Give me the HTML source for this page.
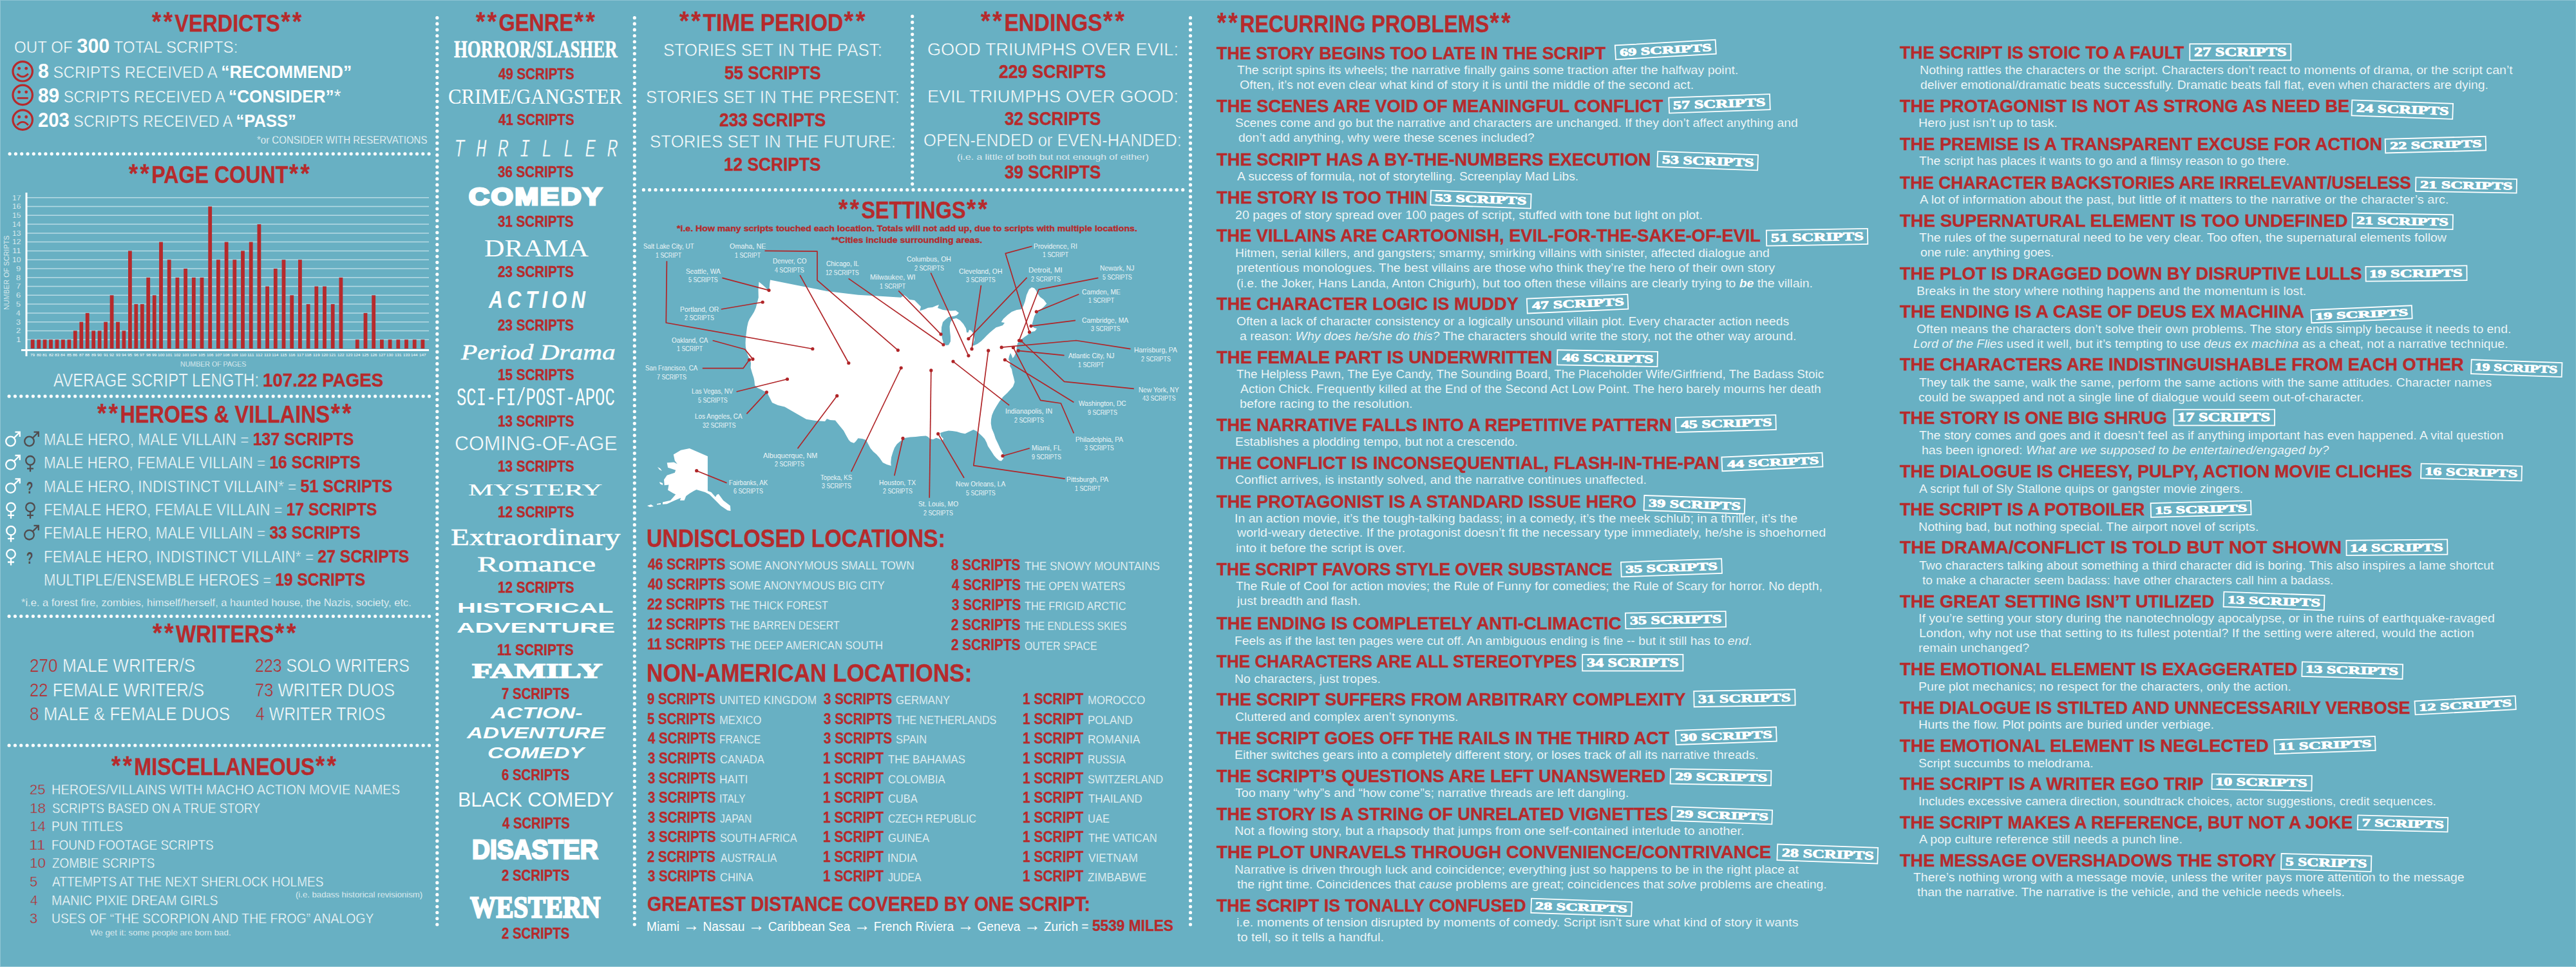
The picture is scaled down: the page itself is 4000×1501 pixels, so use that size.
<!DOCTYPE html>
<html><head><meta charset="utf-8"><title>Script Reader Infographic</title>
<style>
html,body{margin:0;padding:0}
body{width:4000px;height:1501px;background:#68b0c3;position:relative;overflow:hidden;font-family:"Liberation Sans",sans-serif;color:#fff}
.l{position:absolute;white-space:nowrap;line-height:0;height:100px}
.l::before{content:"";display:inline-block;height:100px;width:0}
.t{display:inline-block;transform-origin:0 100%}
svg.ov{position:absolute;left:0;top:0}
.d{stroke:#fff;stroke-width:5.2;stroke-linecap:round;fill:none}
b{font-weight:700}
.r{color:#b62a2c}
.a{font-size:114%;letter-spacing:0.09em;position:relative;top:-0.03em}
.a.e{margin-right:-0.09em;margin-left:0.04em}
</style></head>
<body>
<svg class="ov" width="4000" height="1501" viewBox="0 0 4000 1501">
<path d="M15.1 238.8H666.15" class="d" style="stroke-dasharray:0 9.3000"></path>
<path d="M14.1 615.1H666.55" class="d" style="stroke-dasharray:0 9.3200"></path>
<path d="M14.1 956.6H666.55" class="d" style="stroke-dasharray:0 9.3200"></path>
<path d="M14.1 1157H666.55" class="d" style="stroke-dasharray:0 9.3200"></path>
<path d="M678.8 27.7V1435.05" class="d" style="stroke-dasharray:0 9.2586"></path>
<g stroke="#b62a2c" fill="none" stroke-width="3.2" stroke-linecap="round"><circle cx="35.2" cy="110.8" r="15.2"></circle><circle cx="29.700000000000003" cy="106.2" r="2.4" fill="#b62a2c" stroke="none"></circle><circle cx="40.7" cy="106.2" r="2.4" fill="#b62a2c" stroke="none"></circle><path d="M26.6 114.39999999999999 Q35.2 123.6 43.800000000000004 114.39999999999999" stroke-width="2.9" stroke-linecap="butt"></path></g>
<g stroke="#b62a2c" fill="none" stroke-width="3.2" stroke-linecap="round"><circle cx="35.2" cy="147.4" r="15.2"></circle><circle cx="29.700000000000003" cy="142.8" r="2.4" fill="#b62a2c" stroke="none"></circle><circle cx="40.7" cy="142.8" r="2.4" fill="#b62a2c" stroke="none"></circle><path d="M26.700000000000003 152.3 H43.7" stroke-width="2.8" stroke-linecap="butt"></path></g>
<g stroke="#b62a2c" fill="none" stroke-width="3.2" stroke-linecap="round"><circle cx="35.2" cy="186.1" r="15.2"></circle><circle cx="29.700000000000003" cy="181.5" r="2.4" fill="#b62a2c" stroke="none"></circle><circle cx="40.7" cy="181.5" r="2.4" fill="#b62a2c" stroke="none"></circle><path d="M26.6 194.29999999999998 Q35.2 184.5 43.800000000000004 194.29999999999998" stroke-width="2.9" stroke-linecap="butt"></path></g>
<g><path d="M42 527.2H666" stroke="#b7dae4" stroke-width="1.5"></path><path d="M42 513.4H666" stroke="#b7dae4" stroke-width="1.5"></path><path d="M42 499.7H666" stroke="#b7dae4" stroke-width="1.5"></path><path d="M42 485.9H666" stroke="#b7dae4" stroke-width="1.5"></path><path d="M42 472.1H666" stroke="#b7dae4" stroke-width="1.5"></path><path d="M42 458.3H666" stroke="#b7dae4" stroke-width="1.5"></path><path d="M42 444.5H666" stroke="#b7dae4" stroke-width="1.5"></path><path d="M42 430.8H666" stroke="#b7dae4" stroke-width="1.5"></path><path d="M42 417.0H666" stroke="#b7dae4" stroke-width="1.5"></path><path d="M42 403.2H666" stroke="#b7dae4" stroke-width="1.5"></path><path d="M42 389.4H666" stroke="#b7dae4" stroke-width="1.5"></path><path d="M42 375.6H666" stroke="#b7dae4" stroke-width="1.5"></path><path d="M42 361.9H666" stroke="#b7dae4" stroke-width="1.5"></path><path d="M42 348.1H666" stroke="#b7dae4" stroke-width="1.5"></path><path d="M42 334.3H666" stroke="#b7dae4" stroke-width="1.5"></path><path d="M42 320.5H666" stroke="#b7dae4" stroke-width="1.5"></path><path d="M42 306.7H666" stroke="#b7dae4" stroke-width="1.5"></path><rect x="47.8" y="527.2" width="5.8" height="13.8" fill="#b62a2c"></rect><rect x="57.3" y="527.2" width="5.8" height="13.8" fill="#b62a2c"></rect><rect x="66.7" y="527.2" width="5.8" height="13.8" fill="#b62a2c"></rect><rect x="76.1" y="527.2" width="5.8" height="13.8" fill="#b62a2c"></rect><rect x="85.6" y="527.2" width="5.8" height="13.8" fill="#b62a2c"></rect><rect x="95.0" y="527.2" width="5.8" height="13.8" fill="#b62a2c"></rect><rect x="104.5" y="527.2" width="5.8" height="13.8" fill="#b62a2c"></rect><rect x="113.9" y="513.4" width="5.8" height="27.6" fill="#b62a2c"></rect><rect x="123.4" y="499.7" width="5.8" height="41.3" fill="#b62a2c"></rect><rect x="132.8" y="485.9" width="5.8" height="55.1" fill="#b62a2c"></rect><rect x="142.3" y="513.4" width="5.8" height="27.6" fill="#b62a2c"></rect><rect x="151.7" y="513.4" width="5.8" height="27.6" fill="#b62a2c"></rect><rect x="161.2" y="499.7" width="5.8" height="41.3" fill="#b62a2c"></rect><rect x="170.7" y="458.3" width="5.8" height="82.7" fill="#b62a2c"></rect><rect x="180.1" y="499.7" width="5.8" height="41.3" fill="#b62a2c"></rect><rect x="189.5" y="513.4" width="5.8" height="27.6" fill="#b62a2c"></rect><rect x="199.0" y="389.4" width="5.8" height="151.6" fill="#b62a2c"></rect><rect x="208.4" y="472.1" width="5.8" height="68.9" fill="#b62a2c"></rect><rect x="217.9" y="472.1" width="5.8" height="68.9" fill="#b62a2c"></rect><rect x="227.3" y="430.8" width="5.8" height="110.2" fill="#b62a2c"></rect><rect x="236.8" y="458.3" width="5.8" height="82.7" fill="#b62a2c"></rect><rect x="247.1" y="375.6" width="5.8" height="165.4" fill="#b62a2c"></rect><rect x="259.8" y="403.2" width="5.8" height="137.8" fill="#b62a2c"></rect><rect x="272.5" y="430.8" width="5.8" height="110.2" fill="#b62a2c"></rect><rect x="285.2" y="417.0" width="5.8" height="124.0" fill="#b62a2c"></rect><rect x="297.9" y="430.8" width="5.8" height="110.2" fill="#b62a2c"></rect><rect x="310.6" y="430.8" width="5.8" height="110.2" fill="#b62a2c"></rect><rect x="323.3" y="320.5" width="5.8" height="220.5" fill="#b62a2c"></rect><rect x="336.0" y="403.2" width="5.8" height="137.8" fill="#b62a2c"></rect><rect x="348.7" y="375.6" width="5.8" height="165.4" fill="#b62a2c"></rect><rect x="361.4" y="403.2" width="5.8" height="137.8" fill="#b62a2c"></rect><rect x="374.1" y="389.4" width="5.8" height="151.6" fill="#b62a2c"></rect><rect x="386.8" y="375.6" width="5.8" height="165.4" fill="#b62a2c"></rect><rect x="399.5" y="348.1" width="5.8" height="192.9" fill="#b62a2c"></rect><rect x="412.2" y="444.5" width="5.8" height="96.5" fill="#b62a2c"></rect><rect x="424.9" y="417.0" width="5.8" height="124.0" fill="#b62a2c"></rect><rect x="437.6" y="403.2" width="5.8" height="137.8" fill="#b62a2c"></rect><rect x="450.3" y="458.3" width="5.8" height="82.7" fill="#b62a2c"></rect><rect x="463.0" y="403.2" width="5.8" height="137.8" fill="#b62a2c"></rect><rect x="475.7" y="472.1" width="5.8" height="68.9" fill="#b62a2c"></rect><rect x="488.4" y="444.5" width="5.8" height="96.5" fill="#b62a2c"></rect><rect x="501.1" y="444.5" width="5.8" height="96.5" fill="#b62a2c"></rect><rect x="513.8" y="472.1" width="5.8" height="68.9" fill="#b62a2c"></rect><rect x="526.5" y="430.8" width="5.8" height="110.2" fill="#b62a2c"></rect><rect x="551.9" y="527.2" width="5.8" height="13.8" fill="#b62a2c"></rect><rect x="564.6" y="485.9" width="5.8" height="55.1" fill="#b62a2c"></rect><rect x="577.3" y="458.3" width="5.8" height="82.7" fill="#b62a2c"></rect><rect x="590.0" y="527.2" width="5.8" height="13.8" fill="#b62a2c"></rect><rect x="602.7" y="527.2" width="5.8" height="13.8" fill="#b62a2c"></rect><rect x="615.4" y="527.2" width="5.8" height="13.8" fill="#b62a2c"></rect><rect x="628.1" y="527.2" width="5.8" height="13.8" fill="#b62a2c"></rect><rect x="640.8" y="527.2" width="5.8" height="13.8" fill="#b62a2c"></rect><rect x="653.5" y="527.2" width="5.8" height="13.8" fill="#b62a2c"></rect><path d="M41 299V553" stroke="#fff" stroke-width="3"></path><path d="M33 543.4H666" stroke="#fff" stroke-width="3"></path></g>
<g stroke="#fff" fill="none" stroke-width="2.3"><circle cx="16.5" cy="685.0" r="7.3"></circle><path d="M21.8 679.7L30.5 671.0M23.5 670.7H30.8V678.0"></path></g>
<g stroke="#514b4d" fill="none" stroke-width="2.3"><circle cx="45.5" cy="685.0" r="7.3"></circle><path d="M50.8 679.7L59.5 671.0M52.5 670.7H59.8V678.0"></path></g>
<g stroke="#fff" fill="none" stroke-width="2.3"><circle cx="16.5" cy="721.3" r="7.3"></circle><path d="M21.8 716.0L30.5 707.3M23.5 707.0H30.8V714.3"></path></g>
<g stroke="#514b4d" fill="none" stroke-width="2.3"><circle cx="47" cy="714.8" r="6.8"></circle><path d="M47 721.5999999999999V732.3M42 727.3H52"></path></g>
<g stroke="#fff" fill="none" stroke-width="2.3"><circle cx="16.5" cy="757.6" r="7.3"></circle><path d="M21.8 752.3000000000001L30.5 743.6M23.5 743.3000000000001H30.8V750.6"></path></g>
<g stroke="#fff" fill="none" stroke-width="2.3"><circle cx="17" cy="787.4" r="6.8"></circle><path d="M17 794.1999999999999V804.9M12 799.9H22"></path></g>
<g stroke="#514b4d" fill="none" stroke-width="2.3"><circle cx="47" cy="787.4" r="6.8"></circle><path d="M47 794.1999999999999V804.9M42 799.9H52"></path></g>
<g stroke="#fff" fill="none" stroke-width="2.3"><circle cx="17" cy="823.7" r="6.8"></circle><path d="M17 830.5V841.2M12 836.2H22"></path></g>
<g stroke="#514b4d" fill="none" stroke-width="2.3"><circle cx="45.5" cy="830.2" r="7.3"></circle><path d="M50.8 824.9000000000001L59.5 816.2M52.5 815.9000000000001H59.8V823.2"></path></g>
<g stroke="#fff" fill="none" stroke-width="2.3"><circle cx="17" cy="860.0" r="6.8"></circle><path d="M17 866.8V877.5M12 872.5H22"></path></g>
<path d="M0.5 0V1501" stroke="#8fc4d3" stroke-width="1"></path><path d="M0 1500.5H4000" stroke="#9ccbd8" stroke-width="1"></path><path d="M0 0.5H4000" stroke="#8cc3d3" stroke-width="1"></path><path d="M3999.5 0V1501" stroke="#78b9c9" stroke-width="1"></path>
<path d="M985.3 27.7V1435.05" class="d" style="stroke-dasharray:0 9.2586"></path>
<path d="M1416.7 25.4V285.65" class="d" style="stroke-dasharray:0 9.2929"></path>
<path d="M1848.5 27.7V1435.05" class="d" style="stroke-dasharray:0 9.2586"></path>
<path d="M999.4 294.7H1836.75" class="d" style="stroke-dasharray:0 9.3033"></path>
<path fill="#fff" d="M1178.5,437.6 1184.0,442.0 1190.5,448.0 1192.2,450.5 1194.6,448.5 1195.2,441.0 1196.0,434.4 1236.0,442.4 1284.0,452.0 1332.4,457.8 1370.8,460.0 1399.0,461.7 1404.0,458.0 1408.0,461.0 1412.0,465.0 1420.0,466.0 1425.0,471.0 1430.0,476.0 1428.0,482.5 1436.0,480.0 1441.0,477.7 1448.0,477.0 1453.7,474.5 1458.0,473.0 1456.0,478.0 1464.0,481.0 1476.0,482.5 1484.0,482.0 1489.0,485.7 1486.0,489.0 1482.6,490.5 1473.0,492.0 1468.0,496.0 1464.0,500.0 1462.0,508.0 1461.8,516.2 1463.0,525.0 1465.0,532.2 1469.0,536.0 1473.0,535.4 1476.0,530.0 1476.0,522.6 1475.0,514.0 1474.6,506.6 1476.0,500.0 1479.4,495.3 1485.0,494.0 1490.6,497.0 1496.0,503.0 1500.0,509.8 1501.0,516.0 1503.4,516.2 1505.0,512.0 1508.0,513.0 1511.0,517.0 1513.0,522.6 1513.0,528.0 1511.5,532.2 1509.0,537.0 1513.0,536.0 1517.9,533.8 1523.0,530.0 1527.5,525.8 1532.0,521.0 1537.0,516.2 1542.0,512.0 1546.7,508.2 1551.0,507.0 1557.0,505.0 1560.0,501.0 1554.7,500.0 1558.0,495.0 1564.4,489.0 1571.0,484.0 1578.8,481.0 1586.0,480.0 1589.0,475.0 1591.6,468.0 1594.0,458.0 1598.0,448.9 1602.0,446.0 1606.0,447.3 1609.0,451.0 1610.8,455.3 1615.0,461.0 1620.5,464.9 1625.3,471.3 1621.0,476.0 1617.3,479.3 1613.0,482.0 1609.0,485.7 1606.0,491.0 1604.4,497.0 1603.0,502.0 1602.8,506.6 1606.0,509.0 1610.0,510.0 1607.0,514.0 1602.0,515.0 1598.0,517.8 1594.0,521.0 1591.6,522.6 1587.0,526.0 1583.6,529.0 1580.0,533.0 1578.8,538.6 1578.5,543.0 1577.0,548.3 1575.0,553.0 1572.4,556.0 1571.0,552.0 1569.0,548.0 1567.0,553.0 1566.0,557.9 1569.0,563.0 1568.0,568.0 1571.0,573.0 1572.4,580.3 1574.0,586.0 1575.6,593.0 1573.0,600.0 1569.0,604.4 1564.0,610.0 1558.0,615.6 1552.0,623.0 1546.7,631.6 1543.0,638.0 1540.3,644.4 1539.0,651.0 1538.7,657.3 1540.0,665.0 1543.5,673.3 1546.0,681.0 1550.0,689.3 1553.0,696.0 1556.3,702.0 1558.5,707.0 1558.0,711.8 1555.0,715.5 1551.5,715.0 1547.0,711.0 1543.5,707.0 1539.0,700.0 1534.0,692.5 1532.0,687.0 1529.0,681.3 1525.0,677.0 1521.0,673.3 1516.0,669.0 1511.5,666.9 1505.0,670.0 1498.6,673.3 1492.0,672.0 1485.8,670.0 1479.0,669.0 1473.0,668.5 1466.0,670.0 1460.0,672.0 1461.0,677.0 1465.0,681.0 1463.4,684.0 1458.0,681.0 1453.7,679.7 1449.0,682.0 1444.0,681.3 1441.0,678.0 1437.7,676.5 1430.0,677.0 1421.7,678.0 1413.0,678.5 1405.6,679.7 1399.0,684.0 1392.8,689.3 1389.0,695.0 1386.4,702.0 1384.0,710.0 1383.2,718.0 1383.7,723.0 1377.0,721.0 1370.8,718.0 1366.0,711.0 1361.0,705.3 1356.0,701.0 1351.6,695.7 1348.0,689.0 1345.0,683.0 1339.0,681.0 1332.4,680.3 1329.0,685.0 1326.0,687.7 1321.0,686.0 1318.0,683.0 1314.0,676.0 1310.0,668.5 1303.0,660.0 1297.0,652.4 1289.0,652.0 1284.0,650.0 1281.0,654.0 1266.0,653.0 1252.0,650.8 1235.0,641.0 1218.5,631.6 1208.0,629.0 1199.0,625.0 1195.0,617.0 1191.0,609.0 1186.0,607.0 1181.7,604.4 1176.0,602.0 1172.0,598.0 1171.5,592.0 1170.5,586.7 1168.0,579.0 1165.6,570.7 1166.0,563.0 1164.0,557.9 1161.0,551.0 1159.0,545.0 1157.8,538.0 1157.6,532.0 1158.0,524.0 1159.0,516.0 1160.0,508.0 1161.8,500.0 1164.0,495.0 1167.0,490.5 1171.0,484.0 1173.7,477.7 1176.0,469.0 1177.8,461.7 1177.5,450.0Z"></path>
<path fill="#fff" d="M1070.7,696.1 1098.9,708.2 1098.9,762.0 1104.3,764.0 1111.0,771.4 1113.0,768.0 1115.7,766.7 1123.1,776.8 1133.9,784.9 1134.5,792.9 1129.8,792.3 1119.1,784.9 1111.0,776.8 1101.6,767.4 1094.9,764.0 1081.4,760.0 1077.4,762.0 1070.7,766.0 1065.3,770.1 1062.6,776.8 1055.9,776.8 1057.2,772.8 1047.8,776.8 1035.7,782.2 1029.0,782.8 1029.0,779.5 1041.1,776.8 1049.2,767.4 1045.1,765.4 1037.1,760.7 1038.4,752.6 1031.7,753.3 1031.0,744.5 1035.7,737.8 1047.8,733.8 1049.2,729.7 1037.1,725.7 1035.7,718.3 1046.5,717.6 1051.8,720.3 1047.8,715.0 1045.8,705.5 1057.2,698.8Z M1021,725 1025,727 1028,731 1024,729Z M1024,748 1029,750 1029,753 1025,751Z M1005,785 1011,783 1015,786 1009,787Z M1020,782 1026,781 1026,783 1020,783.5Z"></path>
<g stroke="#b02528" stroke-width="1.7" fill="none" stroke-linejoin="round"><path d="M1035.4,405.3 1034.3,501 1261.8,541.5"></path><path d="M1187.5,389.4 1269,390.2 1269,435 1394.3,543.6"></path><path d="M1242.2,427.2 1317.8,563.5"></path><path d="M1121.4,431.4 1194,450.6"></path><path d="M1119.8,480 1184.2,469"></path><path d="M1106.6,528.5 1156.7,542.2 1168.9,557.4"></path><path d="M1090.8,571.7 1154,571.7 1163.5,558.5"></path><path d="M1143.5,608 1222.5,588.5"></path><path d="M1159.4,642.4 1190.4,608.8"></path><path d="M1238.5,696.2 1299.7,614.4"></path><path d="M1128.5,749.6 1081.7,730.7"></path><path d="M1321.8,732 1399.2,571"></path><path d="M1388.8,738.4 1402,680.4"></path><path d="M1443.2,772.7 1445.8,574.9"></path><path d="M1497,741.8 1456.7,673.4"></path><path d="M1317.6,432.4 1464.9,535"></path><path d="M1395.2,451.4 1461,518.8"></path><path d="M1445.3,423.5 1503.9,552.1"></path><path d="M1523.4,443 1509,541.7"></path><path d="M1594.6,430.9 1503.9,525.8"></path><path d="M1602.5,382.3 1561.3,393.4 1598.5,515.5"></path><path d="M1705.4,431.4 1613,449.3 1582.5,528.5"></path><path d="M1675.3,456.7 1609.3,483.8"></path><path d="M1670,497.3 1601,506.1"></path><path d="M1755.5,541.6 1671,528.5 1555.2,539.2"></path><path d="M1652.6,551.7 1581.2,544.4"></path><path d="M1760.8,603.4 1652.6,592.3 1585.6,529"></path><path d="M1667.4,624.5 1560.4,558.5"></path><path d="M1567.2,629.2 1480,561.1"></path><path d="M1667.4,672.5 1647.3,626 1615.7,621.3 1573.4,539.4"></path><path d="M1598.8,695.7 1557,707.7"></path><path d="M1653.7,743.2 1511.8,722.6 1534.7,544.2"></path></g>
<g fill="#b02528"><circle cx="1261.8" cy="541.5" r="2.6"></circle><circle cx="1394.3" cy="543.6" r="2.6"></circle><circle cx="1317.8" cy="563.5" r="2.6"></circle><circle cx="1194" cy="450.6" r="2.6"></circle><circle cx="1184.2" cy="469" r="2.6"></circle><circle cx="1168.9" cy="557.4" r="2.6"></circle><circle cx="1163.5" cy="558.5" r="2.6"></circle><circle cx="1222.5" cy="588.5" r="2.6"></circle><circle cx="1190.4" cy="608.8" r="2.6"></circle><circle cx="1299.7" cy="614.4" r="2.6"></circle><circle cx="1081.7" cy="730.7" r="2.6"></circle><circle cx="1399.2" cy="571" r="2.6"></circle><circle cx="1402" cy="680.4" r="2.6"></circle><circle cx="1445.8" cy="574.9" r="2.6"></circle><circle cx="1456.7" cy="673.4" r="2.6"></circle><circle cx="1464.9" cy="535" r="2.6"></circle><circle cx="1461" cy="518.8" r="2.6"></circle><circle cx="1503.9" cy="552.1" r="2.6"></circle><circle cx="1509" cy="541.7" r="2.6"></circle><circle cx="1503.9" cy="525.8" r="2.6"></circle><circle cx="1598.5" cy="515.5" r="2.6"></circle><circle cx="1582.5" cy="528.5" r="2.6"></circle><circle cx="1609.3" cy="483.8" r="2.6"></circle><circle cx="1601" cy="506.1" r="2.6"></circle><circle cx="1555.2" cy="539.2" r="2.6"></circle><circle cx="1581.2" cy="544.4" r="2.6"></circle><circle cx="1585.6" cy="529" r="2.6"></circle><circle cx="1560.4" cy="558.5" r="2.6"></circle><circle cx="1480" cy="561.1" r="2.6"></circle><circle cx="1573.4" cy="539.4" r="2.6"></circle><circle cx="1557" cy="707.7" r="2.6"></circle><circle cx="1534.7" cy="544.2" r="2.6"></circle></g>
<rect x="2508.3" y="66.1" width="156.0" height="21.9" fill="none" stroke="#fff" stroke-width="1.8" transform="rotate(-3.2 2586.3 77.1)"></rect>
<rect x="2591.6" y="148.9" width="156.8" height="24.0" fill="none" stroke="#fff" stroke-width="1.8" transform="rotate(-2 2669.9 160.9)"></rect>
<rect x="2573.8" y="237.6" width="155.8" height="24.1" fill="none" stroke="#fff" stroke-width="1.8" transform="rotate(2 2651.7 249.6)"></rect>
<rect x="2221.6" y="298.3" width="155.7" height="22.6" fill="none" stroke="#fff" stroke-width="1.8" transform="rotate(2 2299.5 309.6)"></rect>
<rect x="2743.0" y="356.2" width="157.1" height="24.1" fill="none" stroke="#fff" stroke-width="1.8" transform="rotate(-1 2821.6 368.2)"></rect>
<rect x="2371.2" y="460.3" width="156.7" height="22.8" fill="none" stroke="#fff" stroke-width="1.8" transform="rotate(-2.5 2449.6 471.7)"></rect>
<rect x="2418.2" y="544.6" width="155.6" height="23.1" fill="none" stroke="#fff" stroke-width="1.8" transform="rotate(1 2496.0 556.1)"></rect>
<rect x="2602.2" y="646.2" width="155.4" height="22.8" fill="none" stroke="#fff" stroke-width="1.8" transform="rotate(-1.5 2679.9 657.7)"></rect>
<rect x="2673.8" y="706.2" width="156.2" height="21.7" fill="none" stroke="#fff" stroke-width="1.8" transform="rotate(-2.5 2751.9 717.0)"></rect>
<rect x="2552.9" y="771.7" width="156.3" height="23.1" fill="none" stroke="#fff" stroke-width="1.8" transform="rotate(2 2631.0 783.2)"></rect>
<rect x="2517.3" y="870.0" width="156.3" height="22.6" fill="none" stroke="#fff" stroke-width="1.8" transform="rotate(-2 2595.5 881.3)"></rect>
<rect x="2524.1" y="950.2" width="155.7" height="24.4" fill="none" stroke="#fff" stroke-width="1.8" transform="rotate(-1 2601.9 962.3)"></rect>
<rect x="2457.2" y="1016.0" width="156.2" height="25.4" fill="none" stroke="#fff" stroke-width="1.8" transform="rotate(0 2535.3 1028.7)"></rect>
<rect x="2630.4" y="1071.6" width="157.0" height="24.3" fill="none" stroke="#fff" stroke-width="1.8" transform="rotate(-1 2708.9 1083.7)"></rect>
<rect x="2602.3" y="1131.2" width="156.1" height="22.1" fill="none" stroke="#fff" stroke-width="1.8" transform="rotate(-2 2680.4 1142.2)"></rect>
<rect x="2593.8" y="1194.8" width="156.4" height="23.1" fill="none" stroke="#fff" stroke-width="1.8" transform="rotate(1 2672.0 1206.3)"></rect>
<rect x="2595.7" y="1254.9" width="156.1" height="21.7" fill="none" stroke="#fff" stroke-width="1.8" transform="rotate(2 2673.8 1265.8)"></rect>
<rect x="2759.8" y="1313.2" width="156.0" height="24.6" fill="none" stroke="#fff" stroke-width="1.8" transform="rotate(2 2837.8 1325.5)"></rect>
<rect x="2377.6" y="1397.3" width="156.0" height="22.2" fill="none" stroke="#fff" stroke-width="1.8" transform="rotate(2 2455.7 1408.4)"></rect>
<rect x="3400.3" y="68.2" width="157.0" height="25.3" fill="none" stroke="#fff" stroke-width="1.8" transform="rotate(0 3478.8 80.8)"></rect>
<rect x="3651.9" y="158.1" width="156.8" height="24.1" fill="none" stroke="#fff" stroke-width="1.8" transform="rotate(2 3730.2 170.2)"></rect>
<rect x="3703.9" y="213.8" width="156.0" height="21.7" fill="none" stroke="#fff" stroke-width="1.8" transform="rotate(-1.5 3781.8 224.7)"></rect>
<rect x="3751.2" y="276.7" width="156.6" height="21.5" fill="none" stroke="#fff" stroke-width="1.8" transform="rotate(1 3829.5 287.4)"></rect>
<rect x="3652.7" y="332.1" width="156.1" height="22.6" fill="none" stroke="#fff" stroke-width="1.8" transform="rotate(1 3730.8 343.4)"></rect>
<rect x="3673.6" y="413.1" width="156.9" height="22.8" fill="none" stroke="#fff" stroke-width="1.8" transform="rotate(-0.5 3752.1 424.5)"></rect>
<rect x="3588.9" y="477.7" width="156.4" height="20.1" fill="none" stroke="#fff" stroke-width="1.8" transform="rotate(-2.5 3667.1 487.8)"></rect>
<rect x="3837.3" y="560.7" width="140.8" height="22.0" fill="none" stroke="#fff" stroke-width="1.8" transform="rotate(2 3907.8 571.7)"></rect>
<rect x="3375.5" y="635.7" width="156.5" height="24.7" fill="none" stroke="#fff" stroke-width="1.8" transform="rotate(0 3453.8 648.0)"></rect>
<rect x="3759.3" y="721.6" width="156.5" height="22.8" fill="none" stroke="#fff" stroke-width="1.8" transform="rotate(1.5 3837.5 733.0)"></rect>
<rect x="3339.8" y="779.1" width="155.5" height="21.8" fill="none" stroke="#fff" stroke-width="1.8" transform="rotate(-1.5 3417.5 790.0)"></rect>
<rect x="3643.5" y="838.1" width="156.8" height="23.3" fill="none" stroke="#fff" stroke-width="1.8" transform="rotate(-0.5 3721.9 849.8)"></rect>
<rect x="3452.9" y="921.4" width="156.3" height="23.1" fill="none" stroke="#fff" stroke-width="1.8" transform="rotate(2 3531.0 933.0)"></rect>
<rect x="3574.6" y="1029.4" width="156.2" height="22.6" fill="none" stroke="#fff" stroke-width="1.8" transform="rotate(1.5 3652.7 1040.8)"></rect>
<rect x="3749.9" y="1084.3" width="156.4" height="21.0" fill="none" stroke="#fff" stroke-width="1.8" transform="rotate(-3 3828.2 1094.8)"></rect>
<rect x="3531.7" y="1145.7" width="156.6" height="21.8" fill="none" stroke="#fff" stroke-width="1.8" transform="rotate(-2 3610.1 1156.7)"></rect>
<rect x="3434.7" y="1202.8" width="155.0" height="23.4" fill="none" stroke="#fff" stroke-width="1.8" transform="rotate(1 3512.2 1214.5)"></rect>
<rect x="3661.0" y="1267.2" width="139.9" height="22.4" fill="none" stroke="#fff" stroke-width="1.8" transform="rotate(1.5 3730.9 1278.5)"></rect>
<rect x="3542.3" y="1326.8" width="139.8" height="24.3" fill="none" stroke="#fff" stroke-width="1.8" transform="rotate(1.5 3612.2 1339.0)"></rect>
</svg>
<div class="l" style="left:236.0px;top:-51.4px"><span class="t" style="font-size: 36.05px; font-weight: 700; color: rgb(182, 42, 44); -webkit-text-stroke: 0.35px rgb(182, 42, 44); transform: scaleX(0.8975); margin-left: -0.09px;"><span class="a">**</span>VERDICTS<span class="a e">**</span></span></div>
<div class="l" style="left:23.0px;top:-17.6px"><span class="t" style="font-size: 25.15px; -webkit-text-stroke: 0.55px rgb(104, 176, 195); transform: scaleX(0.9607); margin-left: -1.15px;">OUT OF <b style="font-size:126%;-webkit-text-stroke:0">300</b> TOTAL SCRIPTS:</span></div>
<div class="l" style="left:59.8px;top:20.5px"><span class="t" style="font-size: 25.15px; -webkit-text-stroke: 0.55px rgb(104, 176, 195); transform: scaleX(0.9569); margin-left: -1.05px;"><b style="font-size:126%;-webkit-text-stroke:0">8</b> SCRIPTS RECEIVED A <b style="font-size:110%;-webkit-text-stroke:0">“RECOMMEND”</b></span></div>
<div class="l" style="left:59.8px;top:58.5px"><span class="t" style="font-size: 25.15px; -webkit-text-stroke: 0.55px rgb(104, 176, 195); transform: scaleX(0.9411); margin-left: -1.03px;"><b style="font-size:126%;-webkit-text-stroke:0">89</b> SCRIPTS RECEIVED A <b style="font-size:110%;-webkit-text-stroke:0">“CONSIDER”</b><span style="font-size:120%;-webkit-text-stroke:0.2px #68b0c3">*</span></span></div>
<div class="l" style="left:59.8px;top:97.1px"><span class="t" style="font-size: 25.15px; -webkit-text-stroke: 0.55px rgb(104, 176, 195); transform: scaleX(0.9255); margin-left: -1.17px;"><b style="font-size:126%;-webkit-text-stroke:0">203</b> SCRIPTS RECEIVED A <b style="font-size:110%;-webkit-text-stroke:0">“PASS”</b></span></div>
<div class="l" style="left:399.5px;top:123.4px"><span class="t" style="font-size: 16.42px; -webkit-text-stroke: 0.3px rgb(104, 176, 195); transform: scaleX(0.9151); margin-left: -0.24px;">*or CONSIDER WITH RESERVATIONS</span></div>
<div class="l" style="left:200.0px;top:183.8px"><span class="t" style="font-size: 36.05px; font-weight: 700; color: rgb(182, 42, 44); -webkit-text-stroke: 0.35px rgb(182, 42, 44); transform: scaleX(0.8936); margin-left: -0.09px;"><span class="a">**</span>PAGE COUNT<span class="a e">**</span></span></div>
<div class="l" style="left:25.6px;top:431.0px"><span class="t" style="font-size: 10.9px; -webkit-text-stroke: 0.25px rgb(104, 176, 195); transform: scaleX(1.2766); margin-left: -1.06px;">1</span></div>
<div class="l" style="left:25.6px;top:417.2px"><span class="t" style="font-size: 10.9px; -webkit-text-stroke: 0.25px rgb(104, 176, 195); transform: scaleX(1.2082); margin-left: -0.66px;">2</span></div>
<div class="l" style="left:25.6px;top:403.5px"><span class="t" style="font-size: 10.9px; -webkit-text-stroke: 0.25px rgb(104, 176, 195); transform: scaleX(1.1608); margin-left: -0.48px;">3</span></div>
<div class="l" style="left:25.6px;top:389.7px"><span class="t" style="font-size: 10.9px; -webkit-text-stroke: 0.25px rgb(104, 176, 195); transform: scaleX(1.0922); margin-left: -0.27px;">4</span></div>
<div class="l" style="left:25.6px;top:375.9px"><span class="t" style="font-size: 10.9px; -webkit-text-stroke: 0.25px rgb(104, 176, 195); transform: scaleX(1.1608); margin-left: -0.51px;">5</span></div>
<div class="l" style="left:25.6px;top:362.1px"><span class="t" style="font-size: 10.9px; -webkit-text-stroke: 0.25px rgb(104, 176, 195); transform: scaleX(1.1928); margin-left: -0.66px;">6</span></div>
<div class="l" style="left:25.6px;top:348.3px"><span class="t" style="font-size: 10.9px; -webkit-text-stroke: 0.25px rgb(104, 176, 195); transform: scaleX(1.2109); margin-left: -0.68px;">7</span></div>
<div class="l" style="left:25.6px;top:334.6px"><span class="t" style="font-size: 10.9px; -webkit-text-stroke: 0.25px rgb(104, 176, 195); transform: scaleX(1.1732); margin-left: -0.56px;">8</span></div>
<div class="l" style="left:25.6px;top:320.8px"><span class="t" style="font-size: 10.9px; -webkit-text-stroke: 0.25px rgb(104, 176, 195); transform: scaleX(1.1917); margin-left: -0.61px;">9</span></div>
<div class="l" style="left:19.6px;top:307.0px"><span class="t" style="font-size: 10.9px; -webkit-text-stroke: 0.25px rgb(104, 176, 195); transform: scaleX(1.1041); margin-left: -0.92px;">10</span></div>
<div class="l" style="left:19.6px;top:293.2px"><span class="t" style="font-size: 10.9px; -webkit-text-stroke: 0.25px rgb(104, 176, 195); transform: scaleX(1.206); margin-left: -1px;">11</span></div>
<div class="l" style="left:19.6px;top:279.4px"><span class="t" style="font-size: 10.9px; -webkit-text-stroke: 0.25px rgb(104, 176, 195); transform: scaleX(1.1167); margin-left: -0.93px;">12</span></div>
<div class="l" style="left:19.6px;top:265.7px"><span class="t" style="font-size: 10.9px; -webkit-text-stroke: 0.25px rgb(104, 176, 195); transform: scaleX(1.1095); margin-left: -0.92px;">13</span></div>
<div class="l" style="left:19.6px;top:251.9px"><span class="t" style="font-size: 10.9px; -webkit-text-stroke: 0.25px rgb(104, 176, 195); transform: scaleX(1.0934); margin-left: -0.91px;">14</span></div>
<div class="l" style="left:19.6px;top:238.1px"><span class="t" style="font-size: 10.9px; -webkit-text-stroke: 0.25px rgb(104, 176, 195); transform: scaleX(1.1074); margin-left: -0.92px;">15</span></div>
<div class="l" style="left:19.6px;top:224.3px"><span class="t" style="font-size: 10.9px; -webkit-text-stroke: 0.25px rgb(104, 176, 195); transform: scaleX(1.1095); margin-left: -0.92px;">16</span></div>
<div class="l" style="left:19.6px;top:210.5px"><span class="t" style="font-size: 10.9px; -webkit-text-stroke: 0.25px rgb(104, 176, 195); transform: scaleX(1.1167); margin-left: -0.93px;">17</span></div>
<div class="l" style="left:47.5px;top:453.2px"><span class="t" style="font-size: 5.52px; transform: scaleX(1.1616); margin-left: -0.33px;">79</span></div>
<div class="l" style="left:56.9px;top:453.2px"><span class="t" style="font-size: 5.52px; transform: scaleX(1.1434); margin-left: -0.27px;">80</span></div>
<div class="l" style="left:66.3px;top:453.2px"><span class="t" style="font-size: 5.52px; transform: scaleX(1.1543); margin-left: -0.28px;">81</span></div>
<div class="l" style="left:75.8px;top:453.2px"><span class="t" style="font-size: 5.52px; transform: scaleX(1.156); margin-left: -0.28px;">82</span></div>
<div class="l" style="left:85.2px;top:453.2px"><span class="t" style="font-size: 5.52px; transform: scaleX(1.1488); margin-left: -0.28px;">83</span></div>
<div class="l" style="left:94.7px;top:453.2px"><span class="t" style="font-size: 5.52px; transform: scaleX(1.1326); margin-left: -0.27px;">84</span></div>
<div class="l" style="left:104.2px;top:453.2px"><span class="t" style="font-size: 5.52px; transform: scaleX(1.1467); margin-left: -0.28px;">85</span></div>
<div class="l" style="left:113.6px;top:453.2px"><span class="t" style="font-size: 5.52px; transform: scaleX(1.1488); margin-left: -0.28px;">86</span></div>
<div class="l" style="left:123.0px;top:453.2px"><span class="t" style="font-size: 5.52px; transform: scaleX(1.156); margin-left: -0.28px;">87</span></div>
<div class="l" style="left:132.5px;top:453.2px"><span class="t" style="font-size: 5.52px; transform: scaleX(1.1483); margin-left: -0.28px;">88</span></div>
<div class="l" style="left:141.9px;top:453.2px"><span class="t" style="font-size: 5.52px; transform: scaleX(1.1527); margin-left: -0.28px;">89</span></div>
<div class="l" style="left:151.4px;top:453.2px"><span class="t" style="font-size: 5.52px; transform: scaleX(1.1472); margin-left: -0.3px;">90</span></div>
<div class="l" style="left:160.8px;top:453.2px"><span class="t" style="font-size: 5.52px; transform: scaleX(1.1582); margin-left: -0.3px;">91</span></div>
<div class="l" style="left:170.3px;top:453.2px"><span class="t" style="font-size: 5.52px; transform: scaleX(1.1599); margin-left: -0.3px;">92</span></div>
<div class="l" style="left:179.8px;top:453.2px"><span class="t" style="font-size: 5.52px; transform: scaleX(1.1526); margin-left: -0.3px;">93</span></div>
<div class="l" style="left:189.2px;top:453.2px"><span class="t" style="font-size: 5.52px; transform: scaleX(1.1364); margin-left: -0.29px;">94</span></div>
<div class="l" style="left:198.6px;top:453.2px"><span class="t" style="font-size: 5.52px; transform: scaleX(1.1505); margin-left: -0.3px;">95</span></div>
<div class="l" style="left:208.1px;top:453.2px"><span class="t" style="font-size: 5.52px; transform: scaleX(1.1526); margin-left: -0.3px;">96</span></div>
<div class="l" style="left:217.6px;top:453.2px"><span class="t" style="font-size: 5.52px; transform: scaleX(1.1599); margin-left: -0.3px;">97</span></div>
<div class="l" style="left:227.0px;top:453.2px"><span class="t" style="font-size: 5.52px; transform: scaleX(1.1522); margin-left: -0.3px;">98</span></div>
<div class="l" style="left:236.4px;top:453.2px"><span class="t" style="font-size: 5.52px; transform: scaleX(1.1566); margin-left: -0.3px;">99</span></div>
<div class="l" style="left:245.1px;top:453.2px"><span class="t" style="font-size: 5.52px; transform: scaleX(1.1381); margin-left: -0.48px;">100</span></div>
<div class="l" style="left:257.8px;top:453.2px"><span class="t" style="font-size: 5.52px; transform: scaleX(1.1453); margin-left: -0.48px;">101</span></div>
<div class="l" style="left:270.5px;top:453.2px"><span class="t" style="font-size: 5.52px; transform: scaleX(1.1464); margin-left: -0.48px;">102</span></div>
<div class="l" style="left:283.2px;top:453.2px"><span class="t" style="font-size: 5.52px; transform: scaleX(1.1417); margin-left: -0.48px;">103</span></div>
<div class="l" style="left:295.9px;top:453.2px"><span class="t" style="font-size: 5.52px; transform: scaleX(1.131); margin-left: -0.48px;">104</span></div>
<div class="l" style="left:308.6px;top:453.2px"><span class="t" style="font-size: 5.52px; transform: scaleX(1.1403); margin-left: -0.48px;">105</span></div>
<div class="l" style="left:321.3px;top:453.2px"><span class="t" style="font-size: 5.52px; transform: scaleX(1.1417); margin-left: -0.48px;">106</span></div>
<div class="l" style="left:334.0px;top:453.2px"><span class="t" style="font-size: 5.52px; transform: scaleX(1.1464); margin-left: -0.48px;">107</span></div>
<div class="l" style="left:346.7px;top:453.2px"><span class="t" style="font-size: 5.52px; transform: scaleX(1.1414); margin-left: -0.48px;">108</span></div>
<div class="l" style="left:359.4px;top:453.2px"><span class="t" style="font-size: 5.52px; transform: scaleX(1.1443); margin-left: -0.48px;">109</span></div>
<div class="l" style="left:372.1px;top:453.2px"><span class="t" style="font-size: 5.52px; transform: scaleX(1.1948); margin-left: -0.5px;">110</span></div>
<div class="l" style="left:384.8px;top:453.2px"><span class="t" style="font-size: 5.52px; transform: scaleX(1.2661); margin-left: -0.53px;">111</span></div>
<div class="l" style="left:397.5px;top:453.2px"><span class="t" style="font-size: 5.52px; transform: scaleX(1.2039); margin-left: -0.51px;">112</span></div>
<div class="l" style="left:410.2px;top:453.2px"><span class="t" style="font-size: 5.52px; transform: scaleX(1.1987); margin-left: -0.5px;">113</span></div>
<div class="l" style="left:422.9px;top:453.2px"><span class="t" style="font-size: 5.52px; transform: scaleX(1.1869); margin-left: -0.5px;">114</span></div>
<div class="l" style="left:435.6px;top:453.2px"><span class="t" style="font-size: 5.52px; transform: scaleX(1.1971); margin-left: -0.5px;">115</span></div>
<div class="l" style="left:448.3px;top:453.2px"><span class="t" style="font-size: 5.52px; transform: scaleX(1.1987); margin-left: -0.5px;">116</span></div>
<div class="l" style="left:461.0px;top:453.2px"><span class="t" style="font-size: 5.52px; transform: scaleX(1.2039); margin-left: -0.51px;">117</span></div>
<div class="l" style="left:473.7px;top:453.2px"><span class="t" style="font-size: 5.52px; transform: scaleX(1.1984); margin-left: -0.5px;">118</span></div>
<div class="l" style="left:486.4px;top:453.2px"><span class="t" style="font-size: 5.52px; transform: scaleX(1.2015); margin-left: -0.51px;">119</span></div>
<div class="l" style="left:499.1px;top:453.2px"><span class="t" style="font-size: 5.52px; transform: scaleX(1.1381); margin-left: -0.48px;">120</span></div>
<div class="l" style="left:511.8px;top:453.2px"><span class="t" style="font-size: 5.52px; transform: scaleX(1.1453); margin-left: -0.48px;">121</span></div>
<div class="l" style="left:524.5px;top:453.2px"><span class="t" style="font-size: 5.52px; transform: scaleX(1.1464); margin-left: -0.48px;">122</span></div>
<div class="l" style="left:537.2px;top:453.2px"><span class="t" style="font-size: 5.52px; transform: scaleX(1.1417); margin-left: -0.48px;">123</span></div>
<div class="l" style="left:549.9px;top:453.2px"><span class="t" style="font-size: 5.52px; transform: scaleX(1.131); margin-left: -0.48px;">124</span></div>
<div class="l" style="left:562.6px;top:453.2px"><span class="t" style="font-size: 5.52px; transform: scaleX(1.1403); margin-left: -0.48px;">125</span></div>
<div class="l" style="left:575.3px;top:453.2px"><span class="t" style="font-size: 5.52px; transform: scaleX(1.1417); margin-left: -0.48px;">126</span></div>
<div class="l" style="left:588.0px;top:453.2px"><span class="t" style="font-size: 5.52px; transform: scaleX(1.1464); margin-left: -0.48px;">127</span></div>
<div class="l" style="left:600.7px;top:453.2px"><span class="t" style="font-size: 5.52px; transform: scaleX(1.1381); margin-left: -0.48px;">130</span></div>
<div class="l" style="left:613.4px;top:453.2px"><span class="t" style="font-size: 5.52px; transform: scaleX(1.1453); margin-left: -0.48px;">131</span></div>
<div class="l" style="left:626.1px;top:453.2px"><span class="t" style="font-size: 5.52px; transform: scaleX(1.1417); margin-left: -0.48px;">133</span></div>
<div class="l" style="left:638.8px;top:453.2px"><span class="t" style="font-size: 5.52px; transform: scaleX(1.131); margin-left: -0.48px;">144</span></div>
<div class="l" style="left:651.5px;top:453.2px"><span class="t" style="font-size: 5.52px; transform: scaleX(1.1464); margin-left: -0.48px;">147</span></div>
<div class="l" style="left:280.5px;top:468.7px"><span class="t" style="font-size: 10.9px; -webkit-text-stroke: 0.25px rgb(104, 176, 195); transform: scaleX(0.974); margin-left: -0.87px;">NUMBER OF PAGES</span></div>
<div class="l" style="left:13.8px;top:381px;transform:rotate(-90deg);transform-origin:0 100px"><span class="t" style="font-size:10.9px;-webkit-text-stroke:0.25px #68b0c3">NUMBER OF SCRIPTS</span></div>
<div class="l" style="left:82.7px;top:499.6px"><span class="t" style="font-size: 29.8px; -webkit-text-stroke: 0.55px rgb(104, 176, 195); transform: scaleX(0.8051); margin-left: -0.05px;">AVERAGE SCRIPT LENGTH:</span></div>
<div class="l" style="left:409.6px;top:499.6px"><span class="t" style="font-size: 29.8px; font-weight: 700; color: rgb(182, 42, 44); -webkit-text-stroke: 0.35px rgb(182, 42, 44); transform: scaleX(0.929); margin-left: -1.74px;">107.22 PAGES</span></div>
<div class="l" style="left:151.3px;top:556.4px"><span class="t" style="font-size: 36.05px; font-weight: 700; color: rgb(182, 42, 44); -webkit-text-stroke: 0.35px rgb(182, 42, 44); transform: scaleX(0.8987); margin-left: -0.09px;"><span class="a">**</span>HEROES &amp; VILLAINS<span class="a e">**</span></span></div>
<div class="l" style="left:69.5px;top:591.0px"><span class="t" style="font-size: 25.44px; -webkit-text-stroke: 0.55px rgb(104, 176, 195); transform: scaleX(0.892); margin-left: -1.86px;">MALE HERO, MALE VILLAIN = <b class="r" style="font-size:110%;-webkit-text-stroke:0.35px #b62a2c">137 SCRIPTS</b></span></div>
<div class="l" style="left:69.5px;top:627.3px"><span class="t" style="font-size: 25.44px; -webkit-text-stroke: 0.55px rgb(104, 176, 195); transform: scaleX(0.8836); margin-left: -1.84px;">MALE HERO, FEMALE VILLAIN = <b class="r" style="font-size:110%;-webkit-text-stroke:0.35px #b62a2c">16 SCRIPTS</b></span></div>
<div class="l" style="left:69.5px;top:663.6px"><span class="t" style="font-size: 25.44px; -webkit-text-stroke: 0.55px rgb(104, 176, 195); transform: scaleX(0.8919); margin-left: -1.86px;">MALE HERO, INDISTINCT VILLAIN* = <b class="r" style="font-size:110%;-webkit-text-stroke:0.35px #b62a2c">51 SCRIPTS</b></span></div>
<div class="l" style="left:42.2px;top:665.6px"><span class="t" style="font-size: 25.44px; font-weight: 700; color: rgb(81, 75, 77); transform: scaleX(0.666); margin-left: -0.78px;">?</span></div>
<div class="l" style="left:69.5px;top:699.9px"><span class="t" style="font-size: 25.44px; -webkit-text-stroke: 0.55px rgb(104, 176, 195); transform: scaleX(0.8781); margin-left: -1.83px;">FEMALE HERO, FEMALE VILLAIN = <b class="r" style="font-size:110%;-webkit-text-stroke:0.35px #b62a2c">17 SCRIPTS</b></span></div>
<div class="l" style="left:69.5px;top:736.2px"><span class="t" style="font-size: 25.44px; -webkit-text-stroke: 0.55px rgb(104, 176, 195); transform: scaleX(0.8836); margin-left: -1.84px;">FEMALE HERO, MALE VILLAIN = <b class="r" style="font-size:110%;-webkit-text-stroke:0.35px #b62a2c">33 SCRIPTS</b></span></div>
<div class="l" style="left:69.5px;top:772.5px"><span class="t" style="font-size: 25.44px; -webkit-text-stroke: 0.55px rgb(104, 176, 195); transform: scaleX(0.8872); margin-left: -1.85px;">FEMALE HERO, INDISTINCT VILLAIN* = <b class="r" style="font-size:110%;-webkit-text-stroke:0.35px #b62a2c">27 SCRIPTS</b></span></div>
<div class="l" style="left:42.2px;top:774.5px"><span class="t" style="font-size: 25.44px; font-weight: 700; color: rgb(81, 75, 77); transform: scaleX(0.666); margin-left: -0.78px;">?</span></div>
<div class="l" style="left:69.5px;top:808.8px"><span class="t" style="font-size: 25.44px; -webkit-text-stroke: 0.55px rgb(104, 176, 195); transform: scaleX(0.8734); margin-left: -1.82px;">MULTIPLE/ENSEMBLE HEROES = <b class="r" style="font-size:110%;-webkit-text-stroke:0.35px #b62a2c">19 SCRIPTS</b></span></div>
<div class="l" style="left:33.0px;top:841.3px"><span class="t" style="font-size: 16.42px; -webkit-text-stroke: 0.3px rgb(104, 176, 195); transform: scaleX(1.004); margin-left: -0.27px;">*i.e. a forest fire, zombies, himself/herself, a haunted house, the Nazis, society, etc.</span></div>
<div class="l" style="left:236.6px;top:897.1px"><span class="t" style="font-size: 36.05px; font-weight: 700; color: rgb(182, 42, 44); -webkit-text-stroke: 0.35px rgb(182, 42, 44); transform: scaleX(0.9161); margin-left: -0.1px;"><span class="a">**</span>WRITERS<span class="a e">**</span></span></div>
<div class="l" style="left:47.3px;top:943.3px"><span class="t" style="font-size: 29.36px; -webkit-text-stroke: 0.55px rgb(104, 176, 195); transform: scaleX(0.8906); margin-left: -1.32px;"><span class="r">270</span> MALE WRITER/S</span></div>
<div class="l" style="left:397.4px;top:943.3px"><span class="t" style="font-size: 29.36px; -webkit-text-stroke: 0.55px rgb(104, 176, 195); transform: scaleX(0.8502); margin-left: -1.26px;"><span class="r">223</span> SOLO WRITERS</span></div>
<div class="l" style="left:47.3px;top:980.6px"><span class="t" style="font-size: 29.36px; -webkit-text-stroke: 0.55px rgb(104, 176, 195); transform: scaleX(0.8748); margin-left: -1.29px;"><span class="r">22</span> FEMALE WRITER/S</span></div>
<div class="l" style="left:397.4px;top:980.6px"><span class="t" style="font-size: 29.36px; -webkit-text-stroke: 0.55px rgb(104, 176, 195); transform: scaleX(0.8697); margin-left: -1.31px;"><span class="r">73</span> WRITER DUOS</span></div>
<div class="l" style="left:47.3px;top:1017.9px"><span class="t" style="font-size: 29.36px; -webkit-text-stroke: 0.55px rgb(104, 176, 195); transform: scaleX(0.8866); margin-left: -1.13px;"><span class="r">8</span> MALE &amp; FEMALE DUOS</span></div>
<div class="l" style="left:397.4px;top:1017.9px"><span class="t" style="font-size: 29.36px; -webkit-text-stroke: 0.55px rgb(104, 176, 195); transform: scaleX(0.8471); margin-left: -0.57px;"><span class="r">4</span> WRITER TRIOS</span></div>
<div class="l" style="left:172.7px;top:1103.0px"><span class="t" style="font-size: 36.05px; font-weight: 700; color: rgb(182, 42, 44); -webkit-text-stroke: 0.35px rgb(182, 42, 44); transform: scaleX(0.8972); margin-left: -0.09px;"><span class="a">**</span>MISCELLANEOUS<span class="a e">**</span></span></div>
<div class="l" style="left:47.3px;top:1132.9px"><span class="t" style="font-size: 22.67px; color: rgb(182, 42, 44); -webkit-text-stroke: 0.45px rgb(104, 176, 195); transform: scaleX(0.9736); margin-left: -1.11px;">25</span></div>
<div class="l" style="left:81.5px;top:1132.9px"><span class="t" style="font-size: 22.67px; -webkit-text-stroke: 0.45px rgb(104, 176, 195); transform: scaleX(0.8825); margin-left: -1.64px;">HEROES/VILLAINS WITH MACHO ACTION MOVIE NAMES</span></div>
<div class="l" style="left:47.3px;top:1161.5px"><span class="t" style="font-size: 22.67px; color: rgb(182, 42, 44); -webkit-text-stroke: 0.45px rgb(104, 176, 195); transform: scaleX(1.0005); margin-left: -1.73px;">18</span></div>
<div class="l" style="left:81.5px;top:1161.5px"><span class="t" style="font-size: 22.67px; -webkit-text-stroke: 0.45px rgb(104, 176, 195); transform: scaleX(0.8258); margin-left: -0.85px;">SCRIPTS BASED ON A TRUE STORY</span></div>
<div class="l" style="left:47.3px;top:1190.1px"><span class="t" style="font-size: 22.67px; color: rgb(182, 42, 44); -webkit-text-stroke: 0.45px rgb(104, 176, 195); transform: scaleX(0.9863); margin-left: -1.7px;">14</span></div>
<div class="l" style="left:81.5px;top:1190.1px"><span class="t" style="font-size: 22.67px; -webkit-text-stroke: 0.45px rgb(104, 176, 195); transform: scaleX(0.8501); margin-left: -1.58px;">PUN TITLES</span></div>
<div class="l" style="left:47.3px;top:1218.7px"><span class="t" style="font-size: 22.67px; color: rgb(182, 42, 44); -webkit-text-stroke: 0.45px rgb(104, 176, 195); transform: scaleX(1.0871); margin-left: -1.88px;">11</span></div>
<div class="l" style="left:81.5px;top:1218.7px"><span class="t" style="font-size: 22.67px; -webkit-text-stroke: 0.45px rgb(104, 176, 195); transform: scaleX(0.8376); margin-left: -1.56px;">FOUND FOOTAGE SCRIPTS</span></div>
<div class="l" style="left:47.3px;top:1247.3px"><span class="t" style="font-size: 22.67px; color: rgb(182, 42, 44); -webkit-text-stroke: 0.45px rgb(104, 176, 195); transform: scaleX(0.996); margin-left: -1.72px;">10</span></div>
<div class="l" style="left:81.5px;top:1247.3px"><span class="t" style="font-size: 22.67px; -webkit-text-stroke: 0.45px rgb(104, 176, 195); transform: scaleX(0.8334); margin-left: -0.6px;">ZOMBIE SCRIPTS</span></div>
<div class="l" style="left:47.3px;top:1275.9px"><span class="t" style="font-size: 22.67px; color: rgb(182, 42, 44); -webkit-text-stroke: 0.45px rgb(104, 176, 195); transform: scaleX(0.9767); margin-left: -0.89px;">5</span></div>
<div class="l" style="left:81.5px;top:1275.9px"><span class="t" style="font-size: 22.67px; -webkit-text-stroke: 0.45px rgb(104, 176, 195); transform: scaleX(0.8403); margin-left: -0.04px;">ATTEMPTS AT THE NEXT SHERLOCK HOLMES</span></div>
<div class="l" style="left:47.3px;top:1304.5px"><span class="t" style="font-size: 22.67px; color: rgb(182, 42, 44); -webkit-text-stroke: 0.45px rgb(104, 176, 195); transform: scaleX(0.919); margin-left: -0.48px;">4</span></div>
<div class="l" style="left:81.5px;top:1304.5px"><span class="t" style="font-size: 22.67px; -webkit-text-stroke: 0.45px rgb(104, 176, 195); transform: scaleX(0.8628); margin-left: -1.6px;">MANIC PIXIE DREAM GIRLS</span></div>
<div class="l" style="left:47.3px;top:1333.1px"><span class="t" style="font-size: 22.67px; color: rgb(182, 42, 44); -webkit-text-stroke: 0.45px rgb(104, 176, 195); transform: scaleX(0.9767); margin-left: -0.84px;">3</span></div>
<div class="l" style="left:81.5px;top:1333.1px"><span class="t" style="font-size: 22.67px; -webkit-text-stroke: 0.45px rgb(104, 176, 195); transform: scaleX(0.8573); margin-left: -1.5px;">USES OF “THE SCORPION AND THE FROG” ANALOGY</span></div>
<div class="l" style="left:459.5px;top:1293.0px"><span class="t" style="font-size: 12.5px; -webkit-text-stroke: 0.25px rgb(104, 176, 195); transform: scaleX(1.051); margin-left: -0.81px;">(i.e. badass historical revisionism)</span></div>
<div class="l" style="left:139.7px;top:1351.7px"><span class="t" style="font-size: 12.5px; -webkit-text-stroke: 0.25px rgb(104, 176, 195); transform: scaleX(1.0639); margin-left: -0.06px;">We get it: some people are born bad.</span></div>
<div class="l" style="left:739.5px;top:-52.0px"><span class="t" style="font-size: 36.05px; font-weight: 700; color: rgb(182, 42, 44); -webkit-text-stroke: 0.35px rgb(182, 42, 44); transform: scaleX(0.903); margin-left: -0.09px;"><span class="a">**</span>GENRE<span class="a e">**</span></span></div>
<div class="l" style="left:705.5px;top:-11.1px"><span class="t" style="font-size: 37.1px; font-family: 'Liberation Serif', serif; font-weight: 700; -webkit-text-stroke: 0.6px rgb(255, 255, 255); transform: scaleX(0.7238); margin-left: -0.46px;">HORROR/SLASHER</span></div>
<div class="l" style="left:773.8px;top:23.0px"><span class="t" style="font-size: 23.69px; font-weight: 700; color: rgb(182, 42, 44); -webkit-text-stroke: 0.35px rgb(182, 42, 44); transform: scaleX(0.8674); margin-left: -0.31px;">49 SCRIPTS</span></div>
<div class="l" style="left:697.2px;top:61.3px"><span class="t" style="font-size: 34.66px; font-family: 'Liberation Serif', serif; transform: scaleX(0.8878); margin-left: -1.26px;">CRIME/GANGSTER</span></div>
<div class="l" style="left:773.8px;top:93.9px"><span class="t" style="font-size: 23.69px; font-weight: 700; color: rgb(182, 42, 44); -webkit-text-stroke: 0.35px rgb(182, 42, 44); transform: scaleX(0.8674); margin-left: -0.31px;">41 SCRIPTS</span></div>
<div class="l" style="left:707.6px;top:143.0px"><span class="t" style="font-size: 39.3px; font-family: 'Liberation Mono', monospace; font-style: italic; letter-spacing: 0.62em; -webkit-text-stroke: 0.7px rgb(104, 176, 195); transform: scaleX(0.7075); margin-left: -2.76px;">THRILLE<span style="letter-spacing:0">R</span></span></div>
<div class="l" style="left:773.8px;top:175.0px"><span class="t" style="font-size: 23.69px; font-weight: 700; color: rgb(182, 42, 44); -webkit-text-stroke: 0.35px rgb(182, 42, 44); transform: scaleX(0.8686); margin-left: -0.47px;">36 SCRIPTS</span></div>
<div class="l" style="left:729.8px;top:218.0px"><span class="t" style="font-size: 37.65px; font-weight: 700; -webkit-text-stroke: 3.2px rgb(255, 255, 255); letter-spacing: 0.06em; transform: scaleX(1.1711); margin-left: -1.81px;">COMED<span style="letter-spacing:0">Y</span></span></div>
<div class="l" style="left:773.8px;top:251.5px"><span class="t" style="font-size: 23.69px; font-weight: 700; color: rgb(182, 42, 44); -webkit-text-stroke: 0.35px rgb(182, 42, 44); transform: scaleX(0.8686); margin-left: -0.47px;">31 SCRIPTS</span></div>
<div class="l" style="left:753.0px;top:298.0px"><span class="t" style="font-size: 37.1px; font-family: 'Liberation Serif', serif; transform: scaleX(1.1727); margin-left: -1.25px;">DRAMA</span></div>
<div class="l" style="left:773.8px;top:330.0px"><span class="t" style="font-size: 23.69px; font-weight: 700; color: rgb(182, 42, 44); -webkit-text-stroke: 0.35px rgb(182, 42, 44); transform: scaleX(0.8704); margin-left: -0.72px;">23 SCRIPTS</span></div>
<div class="l" style="left:758.2px;top:378.3px"><span class="t" style="font-size: 37.5px; font-weight: 700; font-style: italic; letter-spacing: 0.22em; transform: scaleX(0.81); margin-left: 0.62px;">ACTIO<span style="letter-spacing:0">N</span></span></div>
<div class="l" style="left:773.8px;top:412.6px"><span class="t" style="font-size: 23.69px; font-weight: 700; color: rgb(182, 42, 44); -webkit-text-stroke: 0.35px rgb(182, 42, 44); transform: scaleX(0.8704); margin-left: -0.72px;">23 SCRIPTS</span></div>
<div class="l" style="left:715.8px;top:458.3px"><span class="t" style="font-size: 34.5px; font-family: 'Liberation Serif', serif; font-style: italic; -webkit-text-stroke: 0.5px rgb(255, 255, 255); transform: scaleX(1.197); margin-left: 0.22px;">Period Drama</span></div>
<div class="l" style="left:773.8px;top:490.0px"><span class="t" style="font-size: 23.69px; font-weight: 700; color: rgb(182, 42, 44); -webkit-text-stroke: 0.35px rgb(182, 42, 44); transform: scaleX(0.8748); margin-left: -1.31px;">15 SCRIPTS</span></div>
<div class="l" style="left:710.0px;top:529.3px"><span class="t" style="font-size: 38.85px; font-family: 'Liberation Mono', monospace; -webkit-text-stroke: 0.15px rgb(104, 176, 195); transform: scaleX(0.6593); margin-left: -0.99px;">SCI-FI/POST-APOC</span></div>
<div class="l" style="left:773.8px;top:561.7px"><span class="t" style="font-size: 23.69px; font-weight: 700; color: rgb(182, 42, 44); -webkit-text-stroke: 0.35px rgb(182, 42, 44); transform: scaleX(0.8748); margin-left: -1.31px;">13 SCRIPTS</span></div>
<div class="l" style="left:707.2px;top:598.7px"><span class="t" style="font-size: 30.52px; -webkit-text-stroke: 0.5px rgb(104, 176, 195); transform: scaleX(1.0003); margin-left: -1.55px;">COMING-OF-AGE</span></div>
<div class="l" style="left:773.8px;top:631.7px"><span class="t" style="font-size: 23.69px; font-weight: 700; color: rgb(182, 42, 44); -webkit-text-stroke: 0.35px rgb(182, 42, 44); transform: scaleX(0.8748); margin-left: -1.31px;">13 SCRIPTS</span></div>
<div class="l" style="left:728.3px;top:668.7px"><span class="t" style="font-size: 25.95px; font-family: 'Liberation Serif', serif; -webkit-text-stroke: 0.15px rgb(255, 255, 255); transform: scaleX(1.7009); margin-left: -1.27px;">MYSTERY</span></div>
<div class="l" style="left:773.8px;top:702.9px"><span class="t" style="font-size: 23.69px; font-weight: 700; color: rgb(182, 42, 44); -webkit-text-stroke: 0.35px rgb(182, 42, 44); transform: scaleX(0.8748); margin-left: -1.31px;">12 SCRIPTS</span></div>
<div class="l" style="left:701.0px;top:745.6px"><span class="t" style="font-size: 36.49px; font-family: 'Liberation Serif', serif; -webkit-text-stroke: 0.5px rgb(255, 255, 255); transform: scaleX(1.2998); margin-left: -1.37px;">Extraordinary</span></div>
<div class="l" style="left:742.5px;top:787.1px"><span class="t" style="font-size: 32.98px; font-family: 'Liberation Serif', serif; -webkit-text-stroke: 0.5px rgb(255, 255, 255); transform: scaleX(1.4785); margin-left: -1.4px;">Romance</span></div>
<div class="l" style="left:773.8px;top:820.1px"><span class="t" style="font-size: 23.69px; font-weight: 700; color: rgb(182, 42, 44); -webkit-text-stroke: 0.35px rgb(182, 42, 44); transform: scaleX(0.8748); margin-left: -1.31px;">12 SCRIPTS</span></div>
<div class="l" style="left:712.9px;top:850.9px"><span class="t" style="font-size: 22.38px; font-weight: 700; transform: scaleX(1.778); margin-left: -2.66px;">HISTORICAL</span></div>
<div class="l" style="left:710.0px;top:882.3px"><span class="t" style="font-size: 22.38px; font-weight: 700; transform: scaleX(1.7685); margin-left: -0.99px;">ADVENTURE</span></div>
<div class="l" style="left:773.8px;top:916.7px"><span class="t" style="font-size: 23.69px; font-weight: 700; color: rgb(182, 42, 44); -webkit-text-stroke: 0.35px rgb(182, 42, 44); transform: scaleX(0.8834); margin-left: -1.32px;">11 SCRIPTS</span></div>
<div class="l" style="left:734.1px;top:951.5px"><span class="t" style="font-size: 31.3px; font-family: 'Liberation Serif', serif; font-weight: 700; -webkit-text-stroke: 1.3px rgb(255, 255, 255); transform: scaleX(1.6643); margin-left: -0.89px;">FAMILY</span></div>
<div class="l" style="left:780.1px;top:985.1px"><span class="t" style="font-size: 23.69px; font-weight: 700; color: rgb(182, 42, 44); -webkit-text-stroke: 0.35px rgb(182, 42, 44); transform: scaleX(0.8616); margin-left: -0.88px;">7 SCRIPTS</span></div>
<div class="l" style="left:760.9px;top:1015.3px"><span class="t" style="font-size: 23.26px; font-weight: 700; font-style: italic; transform: scaleX(1.4739); margin-left: 0.7px;">ACTION-</span></div>
<div class="l" style="left:724.4px;top:1046.1px"><span class="t" style="font-size: 23.26px; font-weight: 700; font-style: italic; transform: scaleX(1.4827); margin-left: 0.71px;">ADVENTURE</span></div>
<div class="l" style="left:758.6px;top:1076.9px"><span class="t" style="font-size: 23.98px; font-weight: 700; font-style: italic; transform: scaleX(1.4277); margin-left: -1.67px;">COMEDY</span></div>
<div class="l" style="left:780.1px;top:1111.1px"><span class="t" style="font-size: 23.69px; font-weight: 700; color: rgb(182, 42, 44); -webkit-text-stroke: 0.35px rgb(182, 42, 44); transform: scaleX(0.8605); margin-left: -0.75px;">6 SCRIPTS</span></div>
<div class="l" style="left:713.0px;top:1152.2px"><span class="t" style="font-size: 31.54px; -webkit-text-stroke: 0.12px rgb(104, 176, 195); transform: scaleX(0.9661); margin-left: -2.5px;">BLACK COMEDY</span></div>
<div class="l" style="left:780.1px;top:1186.4px"><span class="t" style="font-size: 23.69px; font-weight: 700; color: rgb(182, 42, 44); -webkit-text-stroke: 0.35px rgb(182, 42, 44); transform: scaleX(0.8569); margin-left: -0.31px;">4 SCRIPTS</span></div>
<div class="l" style="left:735.8px;top:1233.1px"><span class="t" style="font-size: 43.02px; font-weight: 700; -webkit-text-stroke: 2.6px rgb(255, 255, 255); transform: scaleX(0.8992); margin-left: -2.59px;">DISASTER</span></div>
<div class="l" style="left:780.1px;top:1266.8px"><span class="t" style="font-size: 23.69px; font-weight: 700; color: rgb(182, 42, 44); -webkit-text-stroke: 0.35px rgb(182, 42, 44); transform: scaleX(0.8602); margin-left: -0.71px;">2 SCRIPTS</span></div>
<div class="l" style="left:730.8px;top:1324.3px"><span class="t" style="font-size: 46.72px; font-family: 'Liberation Serif', serif; font-weight: 700; -webkit-text-stroke: 2.4px rgb(255, 255, 255); transform: scaleX(0.8658); margin-left: -0.57px;">WESTERN</span></div>
<div class="l" style="left:780.1px;top:1357.4px"><span class="t" style="font-size: 23.69px; font-weight: 700; color: rgb(182, 42, 44); -webkit-text-stroke: 0.35px rgb(182, 42, 44); transform: scaleX(0.8602); margin-left: -0.71px;">2 SCRIPTS</span></div>
<div class="l" style="left:1055.4px;top:-52.3px"><span class="t" style="font-size: 36.05px; font-weight: 700; color: rgb(182, 42, 44); -webkit-text-stroke: 0.35px rgb(182, 42, 44); transform: scaleX(0.9283); margin-left: -0.1px;"><span class="a">**</span>TIME PERIOD<span class="a e">**</span></span></div>
<div class="l" style="left:1031.4px;top:-12.6px"><span class="t" style="font-size: 27.91px; -webkit-text-stroke: 0.55px rgb(104, 176, 195); transform: scaleX(0.9302); margin-left: -1.18px;">STORIES SET IN THE PAST:</span></div>
<div class="l" style="left:1125.7px;top:22.8px"><span class="t" style="font-size: 28.63px; font-weight: 700; color: rgb(182, 42, 44); -webkit-text-stroke: 0.35px rgb(182, 42, 44); transform: scaleX(0.9131); margin-left: -0.81px;">55 SCRIPTS</span></div>
<div class="l" style="left:1004.5px;top:60.1px"><span class="t" style="font-size: 27.91px; -webkit-text-stroke: 0.55px rgb(104, 176, 195); transform: scaleX(0.9239); margin-left: -1.17px;">STORIES SET IN THE PRESENT:</span></div>
<div class="l" style="left:1118.0px;top:96.2px"><span class="t" style="font-size: 28.63px; font-weight: 700; color: rgb(182, 42, 44); -webkit-text-stroke: 0.35px rgb(182, 42, 44); transform: scaleX(0.9203); margin-left: -0.91px;">233 SCRIPTS</span></div>
<div class="l" style="left:1010.4px;top:129.0px"><span class="t" style="font-size: 27.91px; -webkit-text-stroke: 0.55px rgb(104, 176, 195); transform: scaleX(0.9295); margin-left: -1.18px;">STORIES SET IN THE FUTURE:</span></div>
<div class="l" style="left:1125.7px;top:164.9px"><span class="t" style="font-size: 28.63px; font-weight: 700; color: rgb(182, 42, 44); -webkit-text-stroke: 0.35px rgb(182, 42, 44); transform: scaleX(0.9184); margin-left: -1.66px;">12 SCRIPTS</span></div>
<div class="l" style="left:1522.7px;top:-52.3px"><span class="t" style="font-size: 36.05px; font-weight: 700; color: rgb(182, 42, 44); -webkit-text-stroke: 0.35px rgb(182, 42, 44); transform: scaleX(0.926); margin-left: -0.1px;"><span class="a">**</span>ENDINGS<span class="a e">**</span></span></div>
<div class="l" style="left:1441.2px;top:-14.4px"><span class="t" style="font-size: 27.91px; -webkit-text-stroke: 0.55px rgb(104, 176, 195); transform: scaleX(0.9722); margin-left: -1.36px;">GOOD TRIUMPHS OVER EVIL:</span></div>
<div class="l" style="left:1552.0px;top:21.0px"><span class="t" style="font-size: 28.63px; font-weight: 700; color: rgb(182, 42, 44); -webkit-text-stroke: 0.35px rgb(182, 42, 44); transform: scaleX(0.9259); margin-left: -0.92px;">229 SCRIPTS</span></div>
<div class="l" style="left:1442.0px;top:58.7px"><span class="t" style="font-size: 27.91px; -webkit-text-stroke: 0.55px rgb(104, 176, 195); transform: scaleX(0.9749); margin-left: -2.23px;">EVIL TRIUMPHS OVER GOOD:</span></div>
<div class="l" style="left:1560.7px;top:93.7px"><span class="t" style="font-size: 28.63px; font-weight: 700; color: rgb(182, 42, 44); -webkit-text-stroke: 0.35px rgb(182, 42, 44); transform: scaleX(0.9119); margin-left: -0.6px;">32 SCRIPTS</span></div>
<div class="l" style="left:1435.3px;top:127.3px"><span class="t" style="font-size: 27.91px; -webkit-text-stroke: 0.55px rgb(104, 176, 195); transform: scaleX(0.9165); margin-left: -1.21px;">OPEN-ENDED or EVEN-HANDED:</span></div>
<div class="l" style="left:1486.6px;top:148.0px"><span class="t" style="font-size: 13.52px; -webkit-text-stroke: 0.25px rgb(104, 176, 195); transform: scaleX(1.1561); margin-left: -0.97px;">(i.e. a little of both but not enough of either)</span></div>
<div class="l" style="left:1560.7px;top:177.4px"><span class="t" style="font-size: 28.63px; font-weight: 700; color: rgb(182, 42, 44); -webkit-text-stroke: 0.35px rgb(182, 42, 44); transform: scaleX(0.9119); margin-left: -0.6px;">39 SCRIPTS</span></div>
<div class="l" style="left:1301.8px;top:238.8px"><span class="t" style="font-size: 36.05px; font-weight: 700; color: rgb(182, 42, 44); -webkit-text-stroke: 0.35px rgb(182, 42, 44); transform: scaleX(0.8998); margin-left: -0.09px;"><span class="a">**</span>SETTINGS<span class="a e">**</span></span></div>
<div class="l" style="left:1051.2px;top:258.6px"><span class="t" style="font-size: 12.79px; font-weight: 700; color: rgb(182, 42, 44); -webkit-text-stroke: 0.35px rgb(182, 42, 44); transform: scaleX(1.1053); margin-left: -0.04px;">*i.e. How many scripts touched each location. Totals will not add up, due to scripts with multiple locations.</span></div>
<div class="l" style="left:1291.2px;top:277.0px"><span class="t" style="font-size: 12.79px; font-weight: 700; color: rgb(182, 42, 44); -webkit-text-stroke: 0.35px rgb(182, 42, 44); transform: scaleX(1.1028); margin-left: -0.04px;">**Cities include surrounding areas.</span></div>
<div class="l" style="left:1006.0px;top:748.6px"><span class="t" style="font-size: 39.53px; font-weight: 700; color: rgb(182, 42, 44); -webkit-text-stroke: 0.35px rgb(182, 42, 44); transform: scaleX(0.8568); margin-left: -2.04px;">UNDISCLOSED LOCATIONS:</span></div>
<div class="l" style="left:1006.0px;top:784.4px"><span class="t" style="font-size: 23.55px; font-weight: 700; color: rgb(182, 42, 44); -webkit-text-stroke: 0.35px rgb(182, 42, 44); transform: scaleX(0.8942); margin-left: -0.32px;">46 SCRIPTS</span></div>
<div class="l" style="left:1133.0px;top:784.4px"><span class="t" style="font-size: 18.46px; -webkit-text-stroke: 0.35px rgb(104, 176, 195); transform: scaleX(0.9434); margin-left: -0.79px;">SOME ANONYMOUS SMALL TOWN</span></div>
<div class="l" style="left:1006.0px;top:815.4px"><span class="t" style="font-size: 23.55px; font-weight: 700; color: rgb(182, 42, 44); -webkit-text-stroke: 0.35px rgb(182, 42, 44); transform: scaleX(0.8942); margin-left: -0.32px;">40 SCRIPTS</span></div>
<div class="l" style="left:1133.0px;top:815.4px"><span class="t" style="font-size: 18.46px; -webkit-text-stroke: 0.35px rgb(104, 176, 195); transform: scaleX(0.9185); margin-left: -0.77px;">SOME ANONYMOUS BIG CITY</span></div>
<div class="l" style="left:1006.0px;top:846.4px"><span class="t" style="font-size: 23.55px; font-weight: 700; color: rgb(182, 42, 44); -webkit-text-stroke: 0.35px rgb(182, 42, 44); transform: scaleX(0.8973); margin-left: -0.73px;">22 SCRIPTS</span></div>
<div class="l" style="left:1133.0px;top:846.4px"><span class="t" style="font-size: 18.46px; -webkit-text-stroke: 0.35px rgb(104, 176, 195); transform: scaleX(0.8634); margin-left: -0.36px;">THE THICK FOREST</span></div>
<div class="l" style="left:1006.0px;top:877.4px"><span class="t" style="font-size: 23.55px; font-weight: 700; color: rgb(182, 42, 44); -webkit-text-stroke: 0.35px rgb(182, 42, 44); transform: scaleX(0.9019); margin-left: -1.34px;">12 SCRIPTS</span></div>
<div class="l" style="left:1133.0px;top:877.4px"><span class="t" style="font-size: 18.46px; -webkit-text-stroke: 0.35px rgb(104, 176, 195); transform: scaleX(0.8604); margin-left: -0.36px;">THE BARREN DESERT</span></div>
<div class="l" style="left:1006.0px;top:908.4px"><span class="t" style="font-size: 23.55px; font-weight: 700; color: rgb(182, 42, 44); -webkit-text-stroke: 0.35px rgb(182, 42, 44); transform: scaleX(0.9108); margin-left: -1.35px;">11 SCRIPTS</span></div>
<div class="l" style="left:1133.0px;top:908.4px"><span class="t" style="font-size: 18.46px; -webkit-text-stroke: 0.35px rgb(104, 176, 195); transform: scaleX(0.9052); margin-left: -0.38px;">THE DEEP AMERICAN SOUTH</span></div>
<div class="l" style="left:1478.0px;top:785.4px"><span class="t" style="font-size: 23.55px; font-weight: 700; color: rgb(182, 42, 44); -webkit-text-stroke: 0.35px rgb(182, 42, 44); transform: scaleX(0.8831); margin-left: -0.66px;">8 SCRIPTS</span></div>
<div class="l" style="left:1591.5px;top:785.4px"><span class="t" style="font-size: 18.46px; -webkit-text-stroke: 0.35px rgb(104, 176, 195); transform: scaleX(0.9303); margin-left: -0.39px;">THE SNOWY MOUNTAINS</span></div>
<div class="l" style="left:1478.0px;top:816.4px"><span class="t" style="font-size: 23.55px; font-weight: 700; color: rgb(182, 42, 44); -webkit-text-stroke: 0.35px rgb(182, 42, 44); transform: scaleX(0.8802); margin-left: -0.31px;">4 SCRIPTS</span></div>
<div class="l" style="left:1591.5px;top:816.4px"><span class="t" style="font-size: 18.46px; -webkit-text-stroke: 0.35px rgb(104, 176, 195); transform: scaleX(0.8866); margin-left: -0.37px;">THE OPEN WATERS</span></div>
<div class="l" style="left:1478.0px;top:847.4px"><span class="t" style="font-size: 23.55px; font-weight: 700; color: rgb(182, 42, 44); -webkit-text-stroke: 0.35px rgb(182, 42, 44); transform: scaleX(0.8815); margin-left: -0.48px;">3 SCRIPTS</span></div>
<div class="l" style="left:1591.5px;top:847.4px"><span class="t" style="font-size: 18.46px; -webkit-text-stroke: 0.35px rgb(104, 176, 195); transform: scaleX(0.8887); margin-left: -0.37px;">THE FRIGID ARCTIC</span></div>
<div class="l" style="left:1478.0px;top:878.4px"><span class="t" style="font-size: 23.55px; font-weight: 700; color: rgb(182, 42, 44); -webkit-text-stroke: 0.35px rgb(182, 42, 44); transform: scaleX(0.8836); margin-left: -0.72px;">2 SCRIPTS</span></div>
<div class="l" style="left:1591.5px;top:878.4px"><span class="t" style="font-size: 18.46px; -webkit-text-stroke: 0.35px rgb(104, 176, 195); transform: scaleX(0.8446); margin-left: -0.35px;">THE ENDLESS SKIES</span></div>
<div class="l" style="left:1478.0px;top:909.4px"><span class="t" style="font-size: 23.55px; font-weight: 700; color: rgb(182, 42, 44); -webkit-text-stroke: 0.35px rgb(182, 42, 44); transform: scaleX(0.8836); margin-left: -0.72px;">2 SCRIPTS</span></div>
<div class="l" style="left:1591.5px;top:909.4px"><span class="t" style="font-size: 18.46px; -webkit-text-stroke: 0.35px rgb(104, 176, 195); transform: scaleX(0.8604); margin-left: -0.75px;">OUTER SPACE</span></div>
<div class="l" style="left:1006.0px;top:958.0px"><span class="t" style="font-size: 39.53px; font-weight: 700; color: rgb(182, 42, 44); -webkit-text-stroke: 0.35px rgb(182, 42, 44); transform: scaleX(0.8902); margin-left: -2.35px;">NON-AMERICAN LOCATIONS:</span></div>
<div class="l" style="left:1006.0px;top:993.2px"><span class="t" style="font-size: 23.55px; font-weight: 700; color: rgb(182, 42, 44); -webkit-text-stroke: 0.35px rgb(182, 42, 44); transform: scaleX(0.8711); margin-left: -0.71px;">9 SCRIPTS</span></div>
<div class="l" style="left:1118.7px;top:993.2px"><span class="t" style="font-size: 18.46px; -webkit-text-stroke: 0.35px rgb(104, 176, 195); transform: scaleX(0.9333); margin-left: -1.33px;">UNITED KINGDOM</span></div>
<div class="l" style="left:1279.0px;top:993.2px"><span class="t" style="font-size: 23.55px; font-weight: 700; color: rgb(182, 42, 44); -webkit-text-stroke: 0.35px rgb(182, 42, 44); transform: scaleX(0.8732); margin-left: -0.47px;">3 SCRIPTS</span></div>
<div class="l" style="left:1391.6px;top:993.2px"><span class="t" style="font-size: 18.46px; -webkit-text-stroke: 0.35px rgb(104, 176, 195); transform: scaleX(0.901); margin-left: -0.84px;">GERMANY</span></div>
<div class="l" style="left:1589.0px;top:993.2px"><span class="t" style="font-size: 23.55px; font-weight: 700; color: rgb(182, 42, 44); -webkit-text-stroke: 0.35px rgb(182, 42, 44); transform: scaleX(0.8892); margin-left: -1.32px;">1 SCRIPT</span></div>
<div class="l" style="left:1690.0px;top:993.2px"><span class="t" style="font-size: 18.46px; -webkit-text-stroke: 0.35px rgb(104, 176, 195); transform: scaleX(0.9069); margin-left: -1.37px;">MOROCCO</span></div>
<div class="l" style="left:1006.0px;top:1023.8px"><span class="t" style="font-size: 23.55px; font-weight: 700; color: rgb(182, 42, 44); -webkit-text-stroke: 0.35px rgb(182, 42, 44); transform: scaleX(0.8704); margin-left: -0.63px;">5 SCRIPTS</span></div>
<div class="l" style="left:1118.7px;top:1023.8px"><span class="t" style="font-size: 18.46px; -webkit-text-stroke: 0.35px rgb(104, 176, 195); transform: scaleX(0.9); margin-left: -1.36px;">MEXICO</span></div>
<div class="l" style="left:1279.0px;top:1023.8px"><span class="t" style="font-size: 23.55px; font-weight: 700; color: rgb(182, 42, 44); -webkit-text-stroke: 0.35px rgb(182, 42, 44); transform: scaleX(0.8732); margin-left: -0.47px;">3 SCRIPTS</span></div>
<div class="l" style="left:1391.6px;top:1023.8px"><span class="t" style="font-size: 18.46px; -webkit-text-stroke: 0.35px rgb(104, 176, 195); transform: scaleX(0.8713); margin-left: -0.36px;">THE NETHERLANDS</span></div>
<div class="l" style="left:1589.0px;top:1023.8px"><span class="t" style="font-size: 23.55px; font-weight: 700; color: rgb(182, 42, 44); -webkit-text-stroke: 0.35px rgb(182, 42, 44); transform: scaleX(0.8892); margin-left: -1.32px;">1 SCRIPT</span></div>
<div class="l" style="left:1690.0px;top:1023.8px"><span class="t" style="font-size: 18.46px; -webkit-text-stroke: 0.35px rgb(104, 176, 195); transform: scaleX(0.9192); margin-left: -1.39px;">POLAND</span></div>
<div class="l" style="left:1006.0px;top:1054.3px"><span class="t" style="font-size: 23.55px; font-weight: 700; color: rgb(182, 42, 44); -webkit-text-stroke: 0.35px rgb(182, 42, 44); transform: scaleX(0.8677); margin-left: -0.31px;">4 SCRIPTS</span></div>
<div class="l" style="left:1118.7px;top:1054.3px"><span class="t" style="font-size: 18.46px; -webkit-text-stroke: 0.35px rgb(104, 176, 195); transform: scaleX(0.8476); margin-left: -1.28px;">FRANCE</span></div>
<div class="l" style="left:1279.0px;top:1054.3px"><span class="t" style="font-size: 23.55px; font-weight: 700; color: rgb(182, 42, 44); -webkit-text-stroke: 0.35px rgb(182, 42, 44); transform: scaleX(0.8732); margin-left: -0.47px;">3 SCRIPTS</span></div>
<div class="l" style="left:1391.6px;top:1054.3px"><span class="t" style="font-size: 18.46px; -webkit-text-stroke: 0.35px rgb(104, 176, 195); transform: scaleX(0.8891); margin-left: -0.75px;">SPAIN</span></div>
<div class="l" style="left:1589.0px;top:1054.3px"><span class="t" style="font-size: 23.55px; font-weight: 700; color: rgb(182, 42, 44); -webkit-text-stroke: 0.35px rgb(182, 42, 44); transform: scaleX(0.8892); margin-left: -1.32px;">1 SCRIPT</span></div>
<div class="l" style="left:1690.0px;top:1054.3px"><span class="t" style="font-size: 18.46px; -webkit-text-stroke: 0.35px rgb(104, 176, 195); transform: scaleX(0.9466); margin-left: -1.43px;">ROMANIA</span></div>
<div class="l" style="left:1006.0px;top:1084.9px"><span class="t" style="font-size: 23.55px; font-weight: 700; color: rgb(182, 42, 44); -webkit-text-stroke: 0.35px rgb(182, 42, 44); transform: scaleX(0.8691); margin-left: -0.47px;">3 SCRIPTS</span></div>
<div class="l" style="left:1118.7px;top:1084.9px"><span class="t" style="font-size: 18.46px; -webkit-text-stroke: 0.35px rgb(104, 176, 195); transform: scaleX(0.8936); margin-left: -0.84px;">CANADA</span></div>
<div class="l" style="left:1279.0px;top:1084.9px"><span class="t" style="font-size: 23.55px; font-weight: 700; color: rgb(182, 42, 44); -webkit-text-stroke: 0.35px rgb(182, 42, 44); transform: scaleX(0.8873); margin-left: -1.32px;">1 SCRIPT</span></div>
<div class="l" style="left:1379.7px;top:1084.9px"><span class="t" style="font-size: 18.46px; -webkit-text-stroke: 0.35px rgb(104, 176, 195); transform: scaleX(0.9075); margin-left: -0.38px;">THE BAHAMAS</span></div>
<div class="l" style="left:1589.0px;top:1084.9px"><span class="t" style="font-size: 23.55px; font-weight: 700; color: rgb(182, 42, 44); -webkit-text-stroke: 0.35px rgb(182, 42, 44); transform: scaleX(0.8892); margin-left: -1.32px;">1 SCRIPT</span></div>
<div class="l" style="left:1690.0px;top:1084.9px"><span class="t" style="font-size: 18.46px; -webkit-text-stroke: 0.35px rgb(104, 176, 195); transform: scaleX(0.8569); margin-left: -1.3px;">RUSSIA</span></div>
<div class="l" style="left:1006.0px;top:1115.5px"><span class="t" style="font-size: 23.55px; font-weight: 700; color: rgb(182, 42, 44); -webkit-text-stroke: 0.35px rgb(182, 42, 44); transform: scaleX(0.8691); margin-left: -0.47px;">3 SCRIPTS</span></div>
<div class="l" style="left:1118.7px;top:1115.5px"><span class="t" style="font-size: 18.46px; -webkit-text-stroke: 0.35px rgb(104, 176, 195); transform: scaleX(0.9406); margin-left: -1.42px;">HAITI</span></div>
<div class="l" style="left:1279.0px;top:1115.5px"><span class="t" style="font-size: 23.55px; font-weight: 700; color: rgb(182, 42, 44); -webkit-text-stroke: 0.35px rgb(182, 42, 44); transform: scaleX(0.8873); margin-left: -1.32px;">1 SCRIPT</span></div>
<div class="l" style="left:1379.7px;top:1115.5px"><span class="t" style="font-size: 18.46px; -webkit-text-stroke: 0.35px rgb(104, 176, 195); transform: scaleX(0.9112); margin-left: -0.85px;">COLOMBIA</span></div>
<div class="l" style="left:1589.0px;top:1115.5px"><span class="t" style="font-size: 23.55px; font-weight: 700; color: rgb(182, 42, 44); -webkit-text-stroke: 0.35px rgb(182, 42, 44); transform: scaleX(0.8892); margin-left: -1.32px;">1 SCRIPT</span></div>
<div class="l" style="left:1690.0px;top:1115.5px"><span class="t" style="font-size: 18.46px; -webkit-text-stroke: 0.35px rgb(104, 176, 195); transform: scaleX(0.8855); margin-left: -0.74px;">SWITZERLAND</span></div>
<div class="l" style="left:1006.0px;top:1146.0px"><span class="t" style="font-size: 23.55px; font-weight: 700; color: rgb(182, 42, 44); -webkit-text-stroke: 0.35px rgb(182, 42, 44); transform: scaleX(0.8691); margin-left: -0.47px;">3 SCRIPTS</span></div>
<div class="l" style="left:1118.7px;top:1146.0px"><span class="t" style="font-size: 18.46px; -webkit-text-stroke: 0.35px rgb(104, 176, 195); transform: scaleX(0.8364); margin-left: -1.43px;">ITALY</span></div>
<div class="l" style="left:1279.0px;top:1146.0px"><span class="t" style="font-size: 23.55px; font-weight: 700; color: rgb(182, 42, 44); -webkit-text-stroke: 0.35px rgb(182, 42, 44); transform: scaleX(0.8873); margin-left: -1.32px;">1 SCRIPT</span></div>
<div class="l" style="left:1379.7px;top:1146.0px"><span class="t" style="font-size: 18.46px; -webkit-text-stroke: 0.35px rgb(104, 176, 195); transform: scaleX(0.8914); margin-left: -0.84px;">CUBA</span></div>
<div class="l" style="left:1589.0px;top:1146.0px"><span class="t" style="font-size: 23.55px; font-weight: 700; color: rgb(182, 42, 44); -webkit-text-stroke: 0.35px rgb(182, 42, 44); transform: scaleX(0.8892); margin-left: -1.32px;">1 SCRIPT</span></div>
<div class="l" style="left:1690.0px;top:1146.0px"><span class="t" style="font-size: 18.46px; -webkit-text-stroke: 0.35px rgb(104, 176, 195); transform: scaleX(0.9178); margin-left: -0.38px;">THAILAND</span></div>
<div class="l" style="left:1006.0px;top:1176.6px"><span class="t" style="font-size: 23.55px; font-weight: 700; color: rgb(182, 42, 44); -webkit-text-stroke: 0.35px rgb(182, 42, 44); transform: scaleX(0.8691); margin-left: -0.47px;">3 SCRIPTS</span></div>
<div class="l" style="left:1118.7px;top:1176.6px"><span class="t" style="font-size: 18.46px; -webkit-text-stroke: 0.35px rgb(104, 176, 195); transform: scaleX(0.8495); margin-left: -0.24px;">JAPAN</span></div>
<div class="l" style="left:1279.0px;top:1176.6px"><span class="t" style="font-size: 23.55px; font-weight: 700; color: rgb(182, 42, 44); -webkit-text-stroke: 0.35px rgb(182, 42, 44); transform: scaleX(0.8873); margin-left: -1.32px;">1 SCRIPT</span></div>
<div class="l" style="left:1379.7px;top:1176.6px"><span class="t" style="font-size: 18.46px; -webkit-text-stroke: 0.35px rgb(104, 176, 195); transform: scaleX(0.8499); margin-left: -0.8px;">CZECH REPUBLIC</span></div>
<div class="l" style="left:1589.0px;top:1176.6px"><span class="t" style="font-size: 23.55px; font-weight: 700; color: rgb(182, 42, 44); -webkit-text-stroke: 0.35px rgb(182, 42, 44); transform: scaleX(0.8892); margin-left: -1.32px;">1 SCRIPT</span></div>
<div class="l" style="left:1690.0px;top:1176.6px"><span class="t" style="font-size: 18.46px; -webkit-text-stroke: 0.35px rgb(104, 176, 195); transform: scaleX(0.8962); margin-left: -1.28px;">UAE</span></div>
<div class="l" style="left:1006.0px;top:1207.2px"><span class="t" style="font-size: 23.55px; font-weight: 700; color: rgb(182, 42, 44); -webkit-text-stroke: 0.35px rgb(182, 42, 44); transform: scaleX(0.8691); margin-left: -0.47px;">3 SCRIPTS</span></div>
<div class="l" style="left:1118.7px;top:1207.2px"><span class="t" style="font-size: 18.46px; -webkit-text-stroke: 0.35px rgb(104, 176, 195); transform: scaleX(0.8776); margin-left: -0.74px;">SOUTH AFRICA</span></div>
<div class="l" style="left:1279.0px;top:1207.2px"><span class="t" style="font-size: 23.55px; font-weight: 700; color: rgb(182, 42, 44); -webkit-text-stroke: 0.35px rgb(182, 42, 44); transform: scaleX(0.8873); margin-left: -1.32px;">1 SCRIPT</span></div>
<div class="l" style="left:1379.7px;top:1207.2px"><span class="t" style="font-size: 18.46px; -webkit-text-stroke: 0.35px rgb(104, 176, 195); transform: scaleX(0.9077); margin-left: -0.84px;">GUINEA</span></div>
<div class="l" style="left:1589.0px;top:1207.2px"><span class="t" style="font-size: 23.55px; font-weight: 700; color: rgb(182, 42, 44); -webkit-text-stroke: 0.35px rgb(182, 42, 44); transform: scaleX(0.8892); margin-left: -1.32px;">1 SCRIPT</span></div>
<div class="l" style="left:1690.0px;top:1207.2px"><span class="t" style="font-size: 18.46px; -webkit-text-stroke: 0.35px rgb(104, 176, 195); transform: scaleX(0.8955); margin-left: -0.37px;">THE VATICAN</span></div>
<div class="l" style="left:1006.0px;top:1237.8px"><span class="t" style="font-size: 23.55px; font-weight: 700; color: rgb(182, 42, 44); -webkit-text-stroke: 0.35px rgb(182, 42, 44); transform: scaleX(0.8711); margin-left: -0.71px;">2 SCRIPTS</span></div>
<div class="l" style="left:1118.7px;top:1237.8px"><span class="t" style="font-size: 18.46px; -webkit-text-stroke: 0.35px rgb(104, 176, 195); transform: scaleX(0.8526); margin-left: -0.03px;">AUSTRALIA</span></div>
<div class="l" style="left:1279.0px;top:1237.8px"><span class="t" style="font-size: 23.55px; font-weight: 700; color: rgb(182, 42, 44); -webkit-text-stroke: 0.35px rgb(182, 42, 44); transform: scaleX(0.8873); margin-left: -1.32px;">1 SCRIPT</span></div>
<div class="l" style="left:1379.7px;top:1237.8px"><span class="t" style="font-size: 18.46px; -webkit-text-stroke: 0.35px rgb(104, 176, 195); transform: scaleX(0.9442); margin-left: -1.61px;">INDIA</span></div>
<div class="l" style="left:1589.0px;top:1237.8px"><span class="t" style="font-size: 23.55px; font-weight: 700; color: rgb(182, 42, 44); -webkit-text-stroke: 0.35px rgb(182, 42, 44); transform: scaleX(0.8892); margin-left: -1.32px;">1 SCRIPT</span></div>
<div class="l" style="left:1690.0px;top:1237.8px"><span class="t" style="font-size: 18.46px; -webkit-text-stroke: 0.35px rgb(104, 176, 195); transform: scaleX(0.9395); margin-left: -0.08px;">VIETNAM</span></div>
<div class="l" style="left:1006.0px;top:1268.3px"><span class="t" style="font-size: 23.55px; font-weight: 700; color: rgb(182, 42, 44); -webkit-text-stroke: 0.35px rgb(182, 42, 44); transform: scaleX(0.8691); margin-left: -0.47px;">3 SCRIPTS</span></div>
<div class="l" style="left:1118.7px;top:1268.3px"><span class="t" style="font-size: 18.46px; -webkit-text-stroke: 0.35px rgb(104, 176, 195); transform: scaleX(0.9007); margin-left: -0.84px;">CHINA</span></div>
<div class="l" style="left:1279.0px;top:1268.3px"><span class="t" style="font-size: 23.55px; font-weight: 700; color: rgb(182, 42, 44); -webkit-text-stroke: 0.35px rgb(182, 42, 44); transform: scaleX(0.8873); margin-left: -1.32px;">1 SCRIPT</span></div>
<div class="l" style="left:1379.7px;top:1268.3px"><span class="t" style="font-size: 18.46px; -webkit-text-stroke: 0.35px rgb(104, 176, 195); transform: scaleX(0.8532); margin-left: -0.25px;">JUDEA</span></div>
<div class="l" style="left:1589.0px;top:1268.3px"><span class="t" style="font-size: 23.55px; font-weight: 700; color: rgb(182, 42, 44); -webkit-text-stroke: 0.35px rgb(182, 42, 44); transform: scaleX(0.8892); margin-left: -1.32px;">1 SCRIPT</span></div>
<div class="l" style="left:1690.0px;top:1268.3px"><span class="t" style="font-size: 18.46px; -webkit-text-stroke: 0.35px rgb(104, 176, 195); transform: scaleX(0.9282); margin-left: -0.54px;">ZIMBABWE</span></div>
<div class="l" style="left:1006.0px;top:1313.8px"><span class="t" style="font-size: 31.98px; font-weight: 700; color: rgb(182, 42, 44); -webkit-text-stroke: 0.35px rgb(182, 42, 44); transform: scaleX(0.8903); margin-left: -1.17px;">GREATEST DISTANCE COVERED BY ONE SCRIPT:</span></div>
<div class="l" style="left:1006.0px;top:1345.0px"><span class="t" style="font-size: 19.33px; transform: scaleX(0.9894); margin-left: -1.57px;">Miami <span style="font-size:135%;line-height:0">→</span> Nassau <span style="font-size:135%;line-height:0">→</span> Caribbean Sea <span style="font-size:135%;line-height:0">→</span> French Riviera <span style="font-size:135%;line-height:0">→</span> Geneva <span style="font-size:135%;line-height:0">→</span> Zurich =</span></div>
<div class="l" style="left:1696.6px;top:1345.0px"><span class="t" style="font-size: 23.26px; font-weight: 700; color: rgb(182, 42, 44); -webkit-text-stroke: 0.35px rgb(182, 42, 44); transform: scaleX(0.9749); margin-left: -0.7px;">5539 MILES</span></div>
<div class="l" style="left:999.6px;top:286.0px"><span class="t" style="font-size: 10.17px; -webkit-text-stroke: 0.1px rgb(104, 176, 195); transform: scaleX(0.9702); margin-left: -0.45px;">Salt Lake City, UT</span></div>
<div class="l" style="left:1019.0px;top:299.7px"><span class="t" style="font-size: 10.17px; -webkit-text-stroke: 0.1px rgb(104, 176, 195); transform: scaleX(0.8767); margin-left: -0.68px;">1 SCRIPT</span></div>
<div class="l" style="left:1133.5px;top:286.0px"><span class="t" style="font-size: 10.17px; -webkit-text-stroke: 0.1px rgb(104, 176, 195); transform: scaleX(1.0625); margin-left: -0.51px;">Omaha,  NE</span></div>
<div class="l" style="left:1141.6px;top:299.7px"><span class="t" style="font-size: 10.17px; -webkit-text-stroke: 0.1px rgb(104, 176, 195); transform: scaleX(0.8767); margin-left: -0.68px;">1 SCRIPT</span></div>
<div class="l" style="left:1200.4px;top:309.2px"><span class="t" style="font-size: 10.17px; -webkit-text-stroke: 0.1px rgb(104, 176, 195); transform: scaleX(0.9895); margin-left: -0.83px;">Denver, CO</span></div>
<div class="l" style="left:1203.5px;top:322.9px"><span class="t" style="font-size: 10.17px; -webkit-text-stroke: 0.1px rgb(104, 176, 195); transform: scaleX(0.8687); margin-left: -0.2px;">4 SCRIPTS</span></div>
<div class="l" style="left:1065.3px;top:324.5px"><span class="t" style="font-size: 10.17px; -webkit-text-stroke: 0.1px rgb(104, 176, 195); transform: scaleX(1.0101); margin-left: -0.47px;">Seattle, WA</span></div>
<div class="l" style="left:1069.5px;top:338.2px"><span class="t" style="font-size: 10.17px; -webkit-text-stroke: 0.1px rgb(104, 176, 195); transform: scaleX(0.8716); margin-left: -0.35px;">5 SCRIPTS</span></div>
<div class="l" style="left:1056.5px;top:383.6px"><span class="t" style="font-size: 10.17px; -webkit-text-stroke: 0.1px rgb(104, 176, 195); transform: scaleX(1.0276); margin-left: -0.86px;">Portland, OR</span></div>
<div class="l" style="left:1063.5px;top:397.3px"><span class="t" style="font-size: 10.17px; -webkit-text-stroke: 0.1px rgb(104, 176, 195); transform: scaleX(0.8734); margin-left: -0.45px;">2 SCRIPTS</span></div>
<div class="l" style="left:1043.3px;top:431.6px"><span class="t" style="font-size: 10.17px; -webkit-text-stroke: 0.1px rgb(104, 176, 195); transform: scaleX(0.9809); margin-left: -0.47px;">Oakland, CA</span></div>
<div class="l" style="left:1051.7px;top:445.3px"><span class="t" style="font-size: 10.17px; -webkit-text-stroke: 0.1px rgb(104, 176, 195); transform: scaleX(0.8767); margin-left: -0.68px;">1 SCRIPT</span></div>
<div class="l" style="left:1002.1px;top:475.4px"><span class="t" style="font-size: 10.17px; -webkit-text-stroke: 0.1px rgb(104, 176, 195); transform: scaleX(0.9585); margin-left: -0.44px;">San Francisco, CA</span></div>
<div class="l" style="left:1020.0px;top:489.1px"><span class="t" style="font-size: 10.17px; -webkit-text-stroke: 0.1px rgb(104, 176, 195); transform: scaleX(0.8736); margin-left: -0.46px;">7 SCRIPTS</span></div>
<div class="l" style="left:1074.9px;top:511.3px"><span class="t" style="font-size: 10.17px; -webkit-text-stroke: 0.1px rgb(104, 176, 195); transform: scaleX(0.9546); margin-left: -0.8px;">Las Vegas, NV</span></div>
<div class="l" style="left:1084.1px;top:525.0px"><span class="t" style="font-size: 10.17px; -webkit-text-stroke: 0.1px rgb(104, 176, 195); transform: scaleX(0.8716); margin-left: -0.35px;">5 SCRIPTS</span></div>
<div class="l" style="left:1080.2px;top:550.3px"><span class="t" style="font-size: 10.17px; -webkit-text-stroke: 0.1px rgb(104, 176, 195); transform: scaleX(0.9806); margin-left: -0.82px;">Los Angeles, CA</span></div>
<div class="l" style="left:1091.2px;top:564.0px"><span class="t" style="font-size: 10.17px; -webkit-text-stroke: 0.1px rgb(104, 176, 195); transform: scaleX(0.8868); margin-left: -0.34px;">32 SCRIPTS</span></div>
<div class="l" style="left:1184.7px;top:610.5px"><span class="t" style="font-size: 10.17px; -webkit-text-stroke: 0.1px rgb(104, 176, 195); transform: scaleX(1.0666); margin-left: -0.02px;">Albuquerque, NM</span></div>
<div class="l" style="left:1203.9px;top:624.2px"><span class="t" style="font-size: 10.17px; -webkit-text-stroke: 0.1px rgb(104, 176, 195); transform: scaleX(0.8734); margin-left: -0.45px;">2 SCRIPTS</span></div>
<div class="l" style="left:1132.4px;top:652.6px"><span class="t" style="font-size: 10.17px; -webkit-text-stroke: 0.1px rgb(104, 176, 195); transform: scaleX(0.9504); margin-left: -0.79px;">Fairbanks, AK</span></div>
<div class="l" style="left:1139.5px;top:666.3px"><span class="t" style="font-size: 10.17px; -webkit-text-stroke: 0.1px rgb(104, 176, 195); transform: scaleX(0.8735); margin-left: -0.45px;">6 SCRIPTS</span></div>
<div class="l" style="left:1274.3px;top:644.7px"><span class="t" style="font-size: 10.17px; -webkit-text-stroke: 0.1px rgb(104, 176, 195); transform: scaleX(0.9462); margin-left: -0.22px;">Topeka, KS</span></div>
<div class="l" style="left:1276.1px;top:658.4px"><span class="t" style="font-size: 10.17px; -webkit-text-stroke: 0.1px rgb(104, 176, 195); transform: scaleX(0.8713); margin-left: -0.34px;">3 SCRIPTS</span></div>
<div class="l" style="left:1366.0px;top:652.7px"><span class="t" style="font-size: 10.17px; -webkit-text-stroke: 0.1px rgb(104, 176, 195); transform: scaleX(1.0139); margin-left: -0.85px;">Houston, TX</span></div>
<div class="l" style="left:1371.5px;top:666.4px"><span class="t" style="font-size: 10.17px; -webkit-text-stroke: 0.1px rgb(104, 176, 195); transform: scaleX(0.8734); margin-left: -0.45px;">2 SCRIPTS</span></div>
<div class="l" style="left:1426.4px;top:685.9px"><span class="t" style="font-size: 10.17px; -webkit-text-stroke: 0.1px rgb(104, 176, 195); transform: scaleX(1.0102); margin-left: -0.47px;">St. Louis, MO</span></div>
<div class="l" style="left:1434.5px;top:699.6px"><span class="t" style="font-size: 10.17px; -webkit-text-stroke: 0.1px rgb(104, 176, 195); transform: scaleX(0.8734); margin-left: -0.45px;">2 SCRIPTS</span></div>
<div class="l" style="left:1484.8px;top:655.0px"><span class="t" style="font-size: 10.17px; -webkit-text-stroke: 0.1px rgb(104, 176, 195); transform: scaleX(1.0075); margin-left: -0.84px;">New Orleans, LA</span></div>
<div class="l" style="left:1500.5px;top:668.7px"><span class="t" style="font-size: 10.17px; -webkit-text-stroke: 0.1px rgb(104, 176, 195); transform: scaleX(0.8716); margin-left: -0.35px;">5 SCRIPTS</span></div>
<div class="l" style="left:1283.4px;top:313.4px"><span class="t" style="font-size: 10.17px; -webkit-text-stroke: 0.1px rgb(104, 176, 195); transform: scaleX(0.9914); margin-left: -0.51px;">Chicago, IL</span></div>
<div class="l" style="left:1283.0px;top:327.1px"><span class="t" style="font-size: 10.17px; -webkit-text-stroke: 0.1px rgb(104, 176, 195); transform: scaleX(0.8928); margin-left: -0.69px;">12 SCRIPTS</span></div>
<div class="l" style="left:1351.9px;top:334.0px"><span class="t" style="font-size: 10.17px; -webkit-text-stroke: 0.1px rgb(104, 176, 195); transform: scaleX(1.0676); margin-left: -0.89px;">Milwaukee, WI</span></div>
<div class="l" style="left:1366.6px;top:347.7px"><span class="t" style="font-size: 10.17px; -webkit-text-stroke: 0.1px rgb(104, 176, 195); transform: scaleX(0.8767); margin-left: -0.68px;">1 SCRIPT</span></div>
<div class="l" style="left:1409.0px;top:306.1px"><span class="t" style="font-size: 10.17px; -webkit-text-stroke: 0.1px rgb(104, 176, 195); transform: scaleX(1.0343); margin-left: -0.53px;">Columbus, OH</span></div>
<div class="l" style="left:1420.2px;top:319.8px"><span class="t" style="font-size: 10.17px; -webkit-text-stroke: 0.1px rgb(104, 176, 195); transform: scaleX(0.8734); margin-left: -0.45px;">2 SCRIPTS</span></div>
<div class="l" style="left:1490.0px;top:324.5px"><span class="t" style="font-size: 10.17px; -webkit-text-stroke: 0.1px rgb(104, 176, 195); transform: scaleX(1.0201); margin-left: -0.53px;">Cleveland, OH</span></div>
<div class="l" style="left:1500.5px;top:338.2px"><span class="t" style="font-size: 10.17px; -webkit-text-stroke: 0.1px rgb(104, 176, 195); transform: scaleX(0.8713); margin-left: -0.34px;">3 SCRIPTS</span></div>
<div class="l" style="left:1598.3px;top:322.9px"><span class="t" style="font-size: 10.17px; -webkit-text-stroke: 0.1px rgb(104, 176, 195); transform: scaleX(1.1227); margin-left: -0.94px;">Detroit, MI</span></div>
<div class="l" style="left:1601.1px;top:336.6px"><span class="t" style="font-size: 10.17px; -webkit-text-stroke: 0.1px rgb(104, 176, 195); transform: scaleX(0.8734); margin-left: -0.45px;">2 SCRIPTS</span></div>
<div class="l" style="left:1606.2px;top:285.5px"><span class="t" style="font-size: 10.17px; -webkit-text-stroke: 0.1px rgb(104, 176, 195); transform: scaleX(1.0177); margin-left: -0.85px;">Providence, RI</span></div>
<div class="l" style="left:1619.6px;top:299.2px"><span class="t" style="font-size: 10.17px; -webkit-text-stroke: 0.1px rgb(104, 176, 195); transform: scaleX(0.8767); margin-left: -0.68px;">1 SCRIPT</span></div>
<div class="l" style="left:1709.1px;top:320.3px"><span class="t" style="font-size: 10.17px; -webkit-text-stroke: 0.1px rgb(104, 176, 195); transform: scaleX(1.0158); margin-left: -0.85px;">Newark, NJ</span></div>
<div class="l" style="left:1712.4px;top:334.0px"><span class="t" style="font-size: 10.17px; -webkit-text-stroke: 0.1px rgb(104, 176, 195); transform: scaleX(0.8716); margin-left: -0.35px;">5 SCRIPTS</span></div>
<div class="l" style="left:1680.5px;top:356.7px"><span class="t" style="font-size: 10.17px; -webkit-text-stroke: 0.1px rgb(104, 176, 195); transform: scaleX(1.0115); margin-left: -0.52px;">Camden, ME</span></div>
<div class="l" style="left:1690.4px;top:370.4px"><span class="t" style="font-size: 10.17px; -webkit-text-stroke: 0.1px rgb(104, 176, 195); transform: scaleX(0.8767); margin-left: -0.68px;">1 SCRIPT</span></div>
<div class="l" style="left:1680.6px;top:400.5px"><span class="t" style="font-size: 10.17px; -webkit-text-stroke: 0.1px rgb(104, 176, 195); transform: scaleX(1.0239); margin-left: -0.53px;">Cambridge, MA</span></div>
<div class="l" style="left:1693.9px;top:414.2px"><span class="t" style="font-size: 10.17px; -webkit-text-stroke: 0.1px rgb(104, 176, 195); transform: scaleX(0.8713); margin-left: -0.34px;">3 SCRIPTS</span></div>
<div class="l" style="left:1761.8px;top:447.4px"><span class="t" style="font-size: 10.17px; -webkit-text-stroke: 0.1px rgb(104, 176, 195); transform: scaleX(1.0153); margin-left: -0.85px;">Harrisburg, PA</span></div>
<div class="l" style="left:1772.3px;top:461.1px"><span class="t" style="font-size: 10.17px; -webkit-text-stroke: 0.1px rgb(104, 176, 195); transform: scaleX(0.8734); margin-left: -0.45px;">2 SCRIPTS</span></div>
<div class="l" style="left:1659.0px;top:456.4px"><span class="t" style="font-size: 10.17px; -webkit-text-stroke: 0.1px rgb(104, 176, 195); transform: scaleX(1.0079); margin-left: -0.02px;">Atlantic City, NJ</span></div>
<div class="l" style="left:1674.7px;top:470.1px"><span class="t" style="font-size: 10.17px; -webkit-text-stroke: 0.1px rgb(104, 176, 195); transform: scaleX(0.8767); margin-left: -0.68px;">1 SCRIPT</span></div>
<div class="l" style="left:1768.7px;top:508.7px"><span class="t" style="font-size: 10.17px; -webkit-text-stroke: 0.1px rgb(104, 176, 195); transform: scaleX(1.0014); margin-left: -0.84px;">New York, NY</span></div>
<div class="l" style="left:1774.1px;top:522.4px"><span class="t" style="font-size: 10.17px; -webkit-text-stroke: 0.1px rgb(104, 176, 195); transform: scaleX(0.8844); margin-left: -0.21px;">43 SCRIPTS</span></div>
<div class="l" style="left:1675.3px;top:530.3px"><span class="t" style="font-size: 10.17px; -webkit-text-stroke: 0.1px rgb(104, 176, 195); transform: scaleX(1.0021); margin-left: -0.04px;">Washington, DC</span></div>
<div class="l" style="left:1689.5px;top:544.0px"><span class="t" style="font-size: 10.17px; -webkit-text-stroke: 0.1px rgb(104, 176, 195); transform: scaleX(0.8728); margin-left: -0.42px;">9 SCRIPTS</span></div>
<div class="l" style="left:1561.9px;top:541.9px"><span class="t" style="font-size: 10.17px; -webkit-text-stroke: 0.1px rgb(104, 176, 195); transform: scaleX(1.0433); margin-left: -0.98px;">Indianapolis, IN</span></div>
<div class="l" style="left:1575.0px;top:555.6px"><span class="t" style="font-size: 10.17px; -webkit-text-stroke: 0.1px rgb(104, 176, 195); transform: scaleX(0.8734); margin-left: -0.45px;">2 SCRIPTS</span></div>
<div class="l" style="left:1670.5px;top:585.7px"><span class="t" style="font-size: 10.17px; -webkit-text-stroke: 0.1px rgb(104, 176, 195); transform: scaleX(1.0051); margin-left: -0.84px;">Philadelphia, PA</span></div>
<div class="l" style="left:1684.7px;top:599.4px"><span class="t" style="font-size: 10.17px; -webkit-text-stroke: 0.1px rgb(104, 176, 195); transform: scaleX(0.8713); margin-left: -0.34px;">3 SCRIPTS</span></div>
<div class="l" style="left:1603.0px;top:599.4px"><span class="t" style="font-size: 10.17px; -webkit-text-stroke: 0.1px rgb(104, 176, 195); transform: scaleX(1.0321); margin-left: -0.86px;">Miami, FL</span></div>
<div class="l" style="left:1602.9px;top:613.1px"><span class="t" style="font-size: 10.17px; -webkit-text-stroke: 0.1px rgb(104, 176, 195); transform: scaleX(0.8728); margin-left: -0.42px;">9 SCRIPTS</span></div>
<div class="l" style="left:1657.3px;top:647.9px"><span class="t" style="font-size: 10.17px; -webkit-text-stroke: 0.1px rgb(104, 176, 195); transform: scaleX(1.0171); margin-left: -0.85px;">Pittsburgh, PA</span></div>
<div class="l" style="left:1669.9px;top:661.6px"><span class="t" style="font-size: 10.17px; -webkit-text-stroke: 0.1px rgb(104, 176, 195); transform: scaleX(0.8767); margin-left: -0.68px;">1 SCRIPT</span></div>
<div class="l" style="left:1889.6px;top:-49.8px"><span class="t" style="font-size: 36.63px; font-weight: 700; color: rgb(182, 42, 44); -webkit-text-stroke: 0.35px rgb(182, 42, 44); transform: scaleX(0.8803); margin-left: -0.09px;"><span class="a">**</span>RECURRING PROBLEMS<span class="a e">**</span></span></div>
<div class="l" style="left:1889.2px;top:-7.8px"><span class="t" style="font-size: 27.18px; font-weight: 700; color: rgb(182, 42, 44); -webkit-text-stroke: 0.35px rgb(182, 42, 44); transform: scaleX(0.9881); margin-left: -0.3px;">THE STORY BEGINS TOO LATE IN THE SCRIPT</span></div>
<div class="l" style="left:2516.0px;top:-17.4px;transform:rotate(-3.2deg);transform-origin:70.3px 94.5px"><span class="t" style="font-size: 16.74px; font-family: 'Liberation Serif', serif; font-weight: 700; -webkit-text-stroke: 0.85px rgb(255, 255, 255); transform: scaleX(1.558); margin-left: -0.89px;">69 SCRIPTS</span></div>
<div class="l" style="left:1921.5px;top:15.0px"><span class="t" style="font-size: 18.02px; -webkit-text-stroke: 0.22px rgb(104, 176, 195); transform: scaleX(1.0826); margin-left: -0.44px;">The script spins its wheels; the narrative finally gains some traction after the halfway point.</span></div>
<div class="l" style="left:1926.4px;top:38.1px"><span class="t" style="font-size: 18.02px; -webkit-text-stroke: 0.22px rgb(104, 176, 195); transform: scaleX(1.094); margin-left: -0.93px;">Often, it’s not even clear what kind of story it is until the middle of the second act.</span></div>
<div class="l" style="left:1889.2px;top:74.4px"><span class="t" style="font-size: 27.18px; font-weight: 700; color: rgb(182, 42, 44); -webkit-text-stroke: 0.35px rgb(182, 42, 44); transform: scaleX(1.0051); margin-left: -0.31px;">THE SCENES ARE VOID OF MEANINGFUL CONFLICT</span></div>
<div class="l" style="left:2599.3px;top:67.0px;transform:rotate(-2deg);transform-origin:70.6px 94.0px"><span class="t" style="font-size: 18.35px; font-family: 'Liberation Serif', serif; font-weight: 700; -webkit-text-stroke: 0.85px rgb(255, 255, 255); transform: scaleX(1.4295); margin-left: -1.05px;">57 SCRIPTS</span></div>
<div class="l" style="left:1919.1px;top:97.0px"><span class="t" style="font-size: 18.02px; -webkit-text-stroke: 0.22px rgb(104, 176, 195); transform: scaleX(1.0734); margin-left: -0.88px;">Scenes come and go but the narrative and characters are unchanged. If they don’t affect anything and</span></div>
<div class="l" style="left:1923.4px;top:120.1px"><span class="t" style="font-size: 18.02px; -webkit-text-stroke: 0.22px rgb(104, 176, 195); transform: scaleX(1.0773); margin-left: -0.82px;">don’t add anything, why were these scenes included?</span></div>
<div class="l" style="left:1889.2px;top:156.6px"><span class="t" style="font-size: 27.18px; font-weight: 700; color: rgb(182, 42, 44); -webkit-text-stroke: 0.35px rgb(182, 42, 44); transform: scaleX(1.0048); margin-left: -0.31px;">THE SCRIPT HAS A BY-THE-NUMBERS EXECUTION</span></div>
<div class="l" style="left:2581.5px;top:155.7px;transform:rotate(2deg);transform-origin:70.1px 94.0px"><span class="t" style="font-size: 18.38px; font-family: 'Liberation Serif', serif; font-weight: 700; -webkit-text-stroke: 0.85px rgb(255, 255, 255); transform: scaleX(1.4183); margin-left: -1.04px;">53 SCRIPTS</span></div>
<div class="l" style="left:1920.8px;top:180.1px"><span class="t" style="font-size: 18.02px; -webkit-text-stroke: 0.22px rgb(104, 176, 195); transform: scaleX(1.0697); margin-left: -0.04px;">A success of formula, not of storytelling. Screenplay Mad Libs.</span></div>
<div class="l" style="left:1889.2px;top:215.8px"><span class="t" style="font-size: 27.18px; font-weight: 700; color: rgb(182, 42, 44); -webkit-text-stroke: 0.35px rgb(182, 42, 44); transform: scaleX(1.0128); margin-left: -0.31px;">THE STORY IS TOO THIN</span></div>
<div class="l" style="left:2229.4px;top:215.2px;transform:rotate(2deg);transform-origin:70.1px 94.4px"><span class="t" style="font-size: 17.24px; font-family: 'Liberation Serif', serif; font-weight: 700; -webkit-text-stroke: 0.85px rgb(255, 255, 255); transform: scaleX(1.5097); margin-left: -1.04px;">53 SCRIPTS</span></div>
<div class="l" style="left:1919.1px;top:239.7px"><span class="t" style="font-size: 18.02px; -webkit-text-stroke: 0.22px rgb(104, 176, 195); transform: scaleX(1.0857); margin-left: -0.98px;">20 pages of story spread over 100 pages of script, stuffed with tone but light on plot.</span></div>
<div class="l" style="left:1889.2px;top:274.9px"><span class="t" style="font-size: 27.18px; font-weight: 700; color: rgb(182, 42, 44); -webkit-text-stroke: 0.35px rgb(182, 42, 44); transform: scaleX(0.9995); margin-left: -0.3px;">THE VILLAINS ARE CARTOONISH, EVIL-FOR-THE-SAKE-OF-EVIL</span></div>
<div class="l" style="left:2750.7px;top:274.2px;transform:rotate(-1deg);transform-origin:70.8px 94.0px"><span class="t" style="font-size: 18.37px; font-family: 'Liberation Serif', serif; font-weight: 700; -webkit-text-stroke: 0.85px rgb(255, 255, 255); transform: scaleX(1.4307); margin-left: -1.05px;">51 SCRIPTS</span></div>
<div class="l" style="left:1919.1px;top:298.9px"><span class="t" style="font-size: 18.02px; -webkit-text-stroke: 0.22px rgb(104, 176, 195); transform: scaleX(1.0715); margin-left: -1.58px;">Hitmen, serial killers, and gangsters; smarmy, smirking villains with sinister, affected dialogue and</span></div>
<div class="l" style="left:1920.8px;top:322.0px"><span class="t" style="font-size: 18.02px; -webkit-text-stroke: 0.22px rgb(104, 176, 195); transform: scaleX(1.0934); margin-left: -1.27px;">pretentious monologues. The best villains are those who think they’re the hero of their own story</span></div>
<div class="l" style="left:1920.8px;top:345.5px"><span class="t" style="font-size: 18.02px; -webkit-text-stroke: 0.22px rgb(104, 176, 195); transform: scaleX(1.0753); margin-left: -1.2px;">(i.e. the Joker, Hans Landa, Anton Chigurh), but too often these villains are clearly trying to <b><i>be</i></b> the villain.</span></div>
<div class="l" style="left:1889.2px;top:381.0px"><span class="t" style="font-size: 27.18px; font-weight: 700; color: rgb(182, 42, 44); -webkit-text-stroke: 0.35px rgb(182, 42, 44); transform: scaleX(1.0019); margin-left: -0.3px;">THE CHARACTER LOGIC IS MUDDY</span></div>
<div class="l" style="left:2379.0px;top:377.4px;transform:rotate(-2.5deg);transform-origin:70.6px 94.3px"><span class="t" style="font-size: 17.4px; font-family: 'Liberation Serif', serif; font-weight: 700; -webkit-text-stroke: 0.85px rgb(255, 255, 255); transform: scaleX(1.5); margin-left: -0.36px;">47 SCRIPTS</span></div>
<div class="l" style="left:1920.8px;top:404.5px"><span class="t" style="font-size: 18.02px; -webkit-text-stroke: 0.22px rgb(104, 176, 195); transform: scaleX(1.0697); margin-left: -0.91px;">Often a lack of character consistency or a logically unsound villain plot. Every character action needs</span></div>
<div class="l" style="left:1926.2px;top:427.5px"><span class="t" style="font-size: 18.02px; -webkit-text-stroke: 0.22px rgb(104, 176, 195); transform: scaleX(1.0798); margin-left: -0.83px;">a reason: <i>Why does he/she do this?</i> The characters should write the story, not the other way around.</span></div>
<div class="l" style="left:1889.2px;top:463.7px"><span class="t" style="font-size: 27.18px; font-weight: 700; color: rgb(182, 42, 44); -webkit-text-stroke: 0.35px rgb(182, 42, 44); transform: scaleX(1.0148); margin-left: -0.31px;">THE FEMALE PART IS UNDERWRITTEN</span></div>
<div class="l" style="left:2425.9px;top:461.9px;transform:rotate(1deg);transform-origin:70.1px 94.2px"><span class="t" style="font-size: 17.62px; font-family: 'Liberation Serif', serif; font-weight: 700; -webkit-text-stroke: 0.85px rgb(255, 255, 255); transform: scaleX(1.4688); margin-left: -0.35px;">46 SCRIPTS</span></div>
<div class="l" style="left:1920.8px;top:486.7px"><span class="t" style="font-size: 18.02px; -webkit-text-stroke: 0.22px rgb(104, 176, 195); transform: scaleX(1.0441); margin-left: -0.42px;">The Helpless Pawn, The Eye Candy, The Sounding Board, The Placeholder Wife/Girlfriend, The Badass Stoic</span></div>
<div class="l" style="left:1926.2px;top:509.8px"><span class="t" style="font-size: 18.02px; -webkit-text-stroke: 0.22px rgb(104, 176, 195); transform: scaleX(1.0724); margin-left: -0.04px;">Action Chick. Frequently killed at the End of the Second Act Low Point. The hero barely mourns her death</span></div>
<div class="l" style="left:1926.2px;top:532.9px"><span class="t" style="font-size: 18.02px; -webkit-text-stroke: 0.22px rgb(104, 176, 195); transform: scaleX(1.1036); margin-left: -1.28px;">before racing to the resolution.</span></div>
<div class="l" style="left:1889.2px;top:569.1px"><span class="t" style="font-size: 27.18px; font-weight: 700; color: rgb(182, 42, 44); -webkit-text-stroke: 0.35px rgb(182, 42, 44); transform: scaleX(0.9998); margin-left: -0.3px;">THE NARRATIVE FALLS INTO A REPETITIVE PATTERN</span></div>
<div class="l" style="left:2609.9px;top:563.4px;transform:rotate(-1.5deg);transform-origin:69.9px 94.3px"><span class="t" style="font-size: 17.44px; font-family: 'Liberation Serif', serif; font-weight: 700; -webkit-text-stroke: 0.85px rgb(255, 255, 255); transform: scaleX(1.4814); margin-left: -0.35px;">45 SCRIPTS</span></div>
<div class="l" style="left:1919.1px;top:592.1px"><span class="t" style="font-size: 18.02px; -webkit-text-stroke: 0.22px rgb(104, 176, 195); transform: scaleX(1.074); margin-left: -1.59px;">Establishes a plodding tempo, but not a crescendo.</span></div>
<div class="l" style="left:1889.2px;top:628.2px"><span class="t" style="font-size: 27.18px; font-weight: 700; color: rgb(182, 42, 44); -webkit-text-stroke: 0.35px rgb(182, 42, 44); transform: scaleX(1.0111); margin-left: -0.31px;">THE CONFLICT IS INCONSEQUENTIAL, FLASH-IN-THE-PAN</span></div>
<div class="l" style="left:2681.5px;top:622.5px;transform:rotate(-2.5deg);transform-origin:70.4px 94.6px"><span class="t" style="font-size: 16.57px; font-family: 'Liberation Serif', serif; font-weight: 700; -webkit-text-stroke: 0.85px rgb(255, 255, 255); transform: scaleX(1.5694); margin-left: -0.36px;">44 SCRIPTS</span></div>
<div class="l" style="left:1919.1px;top:651.3px"><span class="t" style="font-size: 18.02px; -webkit-text-stroke: 0.22px rgb(104, 176, 195); transform: scaleX(1.0801); margin-left: -0.99px;">Conflict arrives, is instantly solved, and the narrative continues unaffected.</span></div>
<div class="l" style="left:1889.2px;top:687.9px"><span class="t" style="font-size: 27.18px; font-weight: 700; color: rgb(182, 42, 44); -webkit-text-stroke: 0.35px rgb(182, 42, 44); transform: scaleX(1.0024); margin-left: -0.31px;">THE PROTAGONIST IS A STANDARD ISSUE HERO</span></div>
<div class="l" style="left:2560.6px;top:689.0px;transform:rotate(2deg);transform-origin:70.4px 94.2px"><span class="t" style="font-size: 17.6px; font-family: 'Liberation Serif', serif; font-weight: 700; -webkit-text-stroke: 0.85px rgb(255, 255, 255); transform: scaleX(1.4845); margin-left: -0.98px;">39 SCRIPTS</span></div>
<div class="l" style="left:1919.1px;top:710.8px"><span class="t" style="font-size: 18.02px; -webkit-text-stroke: 0.22px rgb(104, 176, 195); transform: scaleX(1.0835); margin-left: -1.8px;">In an action movie, it’s the tough-talking badass; in a comedy, it’s the meek schlub; in a thriller, it’s the</span></div>
<div class="l" style="left:1920.8px;top:733.4px"><span class="t" style="font-size: 18.02px; -webkit-text-stroke: 0.22px rgb(104, 176, 195); transform: scaleX(1.0898); margin-left: 0.03px;">world-weary detective. If the protagonist doesn’t fit the necessary type immediately, he/she is shoehorned</span></div>
<div class="l" style="left:1920.8px;top:756.5px"><span class="t" style="font-size: 18.02px; -webkit-text-stroke: 0.22px rgb(104, 176, 195); transform: scaleX(1.1003); margin-left: -1.33px;">into it before the script is over.</span></div>
<div class="l" style="left:1889.2px;top:793.3px"><span class="t" style="font-size: 27.18px; font-weight: 700; color: rgb(182, 42, 44); -webkit-text-stroke: 0.35px rgb(182, 42, 44); transform: scaleX(0.9709); margin-left: -0.3px;">THE SCRIPT FAVORS STYLE OVER SUBSTANCE</span></div>
<div class="l" style="left:2525.1px;top:786.9px;transform:rotate(-2deg);transform-origin:70.4px 94.4px"><span class="t" style="font-size: 17.22px; font-family: 'Liberation Serif', serif; font-weight: 700; -webkit-text-stroke: 0.85px rgb(255, 255, 255); transform: scaleX(1.5183); margin-left: -0.98px;">35 SCRIPTS</span></div>
<div class="l" style="left:1919.1px;top:816.2px"><span class="t" style="font-size: 18.02px; -webkit-text-stroke: 0.22px rgb(104, 176, 195); transform: scaleX(1.07); margin-left: -0.43px;">The Rule of Cool for action movies; the Rule of Funny for comedies; the Rule of Scary for horror. No depth,</span></div>
<div class="l" style="left:1920.8px;top:838.8px"><span class="t" style="font-size: 18.02px; -webkit-text-stroke: 0.22px rgb(104, 176, 195); transform: scaleX(1.0836); margin-left: 0.48px;">just breadth and flash.</span></div>
<div class="l" style="left:1889.2px;top:876.8px"><span class="t" style="font-size: 27.18px; font-weight: 700; color: rgb(182, 42, 44); -webkit-text-stroke: 0.35px rgb(182, 42, 44); transform: scaleX(1.0147); margin-left: -0.31px;">THE ENDING IS COMPLETELY ANTI-CLIMACTIC</span></div>
<div class="l" style="left:2531.9px;top:868.4px;transform:rotate(-1deg);transform-origin:70.1px 93.9px"><span class="t" style="font-size: 18.62px; font-family: 'Liberation Serif', serif; font-weight: 700; -webkit-text-stroke: 0.85px rgb(255, 255, 255); transform: scaleX(1.3969); margin-left: -0.98px;">35 SCRIPTS</span></div>
<div class="l" style="left:1918.9px;top:900.6px"><span class="t" style="font-size: 18.02px; -webkit-text-stroke: 0.22px rgb(104, 176, 195); transform: scaleX(1.073); margin-left: -1.59px;">Feels as if the last ten pages were cut off. An ambiguous ending is fine -- but it still has to <i>end</i>.</span></div>
<div class="l" style="left:1889.2px;top:935.7px"><span class="t" style="font-size: 27.18px; font-weight: 700; color: rgb(182, 42, 44); -webkit-text-stroke: 0.35px rgb(182, 42, 44); transform: scaleX(0.9596); margin-left: -0.29px;">THE CHARACTERS ARE ALL STEREOTYPES</span></div>
<div class="l" style="left:2464.9px;top:935.1px;transform:rotate(0deg);transform-origin:70.4px 93.6px"><span class="t" style="font-size: 19.39px; font-family: 'Liberation Serif', serif; font-weight: 700; -webkit-text-stroke: 0.85px rgb(255, 255, 255); transform: scaleX(1.3463); margin-left: -0.98px;">34 SCRIPTS</span></div>
<div class="l" style="left:1918.9px;top:959.5px"><span class="t" style="font-size: 18.02px; -webkit-text-stroke: 0.22px rgb(104, 176, 195); transform: scaleX(1.0789); margin-left: -1.59px;">No characters, just tropes.</span></div>
<div class="l" style="left:1889.2px;top:995.1px"><span class="t" style="font-size: 27.18px; font-weight: 700; color: rgb(182, 42, 44); -webkit-text-stroke: 0.35px rgb(182, 42, 44); transform: scaleX(0.9944); margin-left: -0.3px;">THE SCRIPT SUFFERS FROM ARBITRARY COMPLEXITY</span></div>
<div class="l" style="left:2638.1px;top:989.8px;transform:rotate(-1deg);transform-origin:70.8px 93.9px"><span class="t" style="font-size: 18.52px; font-family: 'Liberation Serif', serif; font-weight: 700; -webkit-text-stroke: 0.85px rgb(255, 255, 255); transform: scaleX(1.417); margin-left: -0.99px;">31 SCRIPTS</span></div>
<div class="l" style="left:1918.9px;top:1019.0px"><span class="t" style="font-size: 18.02px; -webkit-text-stroke: 0.22px rgb(104, 176, 195); transform: scaleX(1.0775); margin-left: -0.99px;">Cluttered and complex aren’t synonyms.</span></div>
<div class="l" style="left:1889.2px;top:1054.6px"><span class="t" style="font-size: 27.18px; font-weight: 700; color: rgb(182, 42, 44); -webkit-text-stroke: 0.35px rgb(182, 42, 44); transform: scaleX(0.9904); margin-left: -0.3px;">THE SCRIPT GOES OFF THE RAILS IN THE THIRD ACT</span></div>
<div class="l" style="left:2610.1px;top:1047.8px;transform:rotate(-2deg);transform-origin:70.3px 94.5px"><span class="t" style="font-size: 16.84px; font-family: 'Liberation Serif', serif; font-weight: 700; -webkit-text-stroke: 0.85px rgb(255, 255, 255); transform: scaleX(1.5498); margin-left: -0.98px;">30 SCRIPTS</span></div>
<div class="l" style="left:1918.9px;top:1077.8px"><span class="t" style="font-size: 18.02px; -webkit-text-stroke: 0.22px rgb(104, 176, 195); transform: scaleX(1.0817); margin-left: -1.6px;">Either switches gears into a completely different story, or loses track of all its narrative threads.</span></div>
<div class="l" style="left:1889.2px;top:1113.5px"><span class="t" style="font-size: 27.18px; font-weight: 700; color: rgb(182, 42, 44); -webkit-text-stroke: 0.35px rgb(182, 42, 44); transform: scaleX(0.9968); margin-left: -0.3px;">THE SCRIPT’S QUESTIONS ARE LEFT UNANSWERED</span></div>
<div class="l" style="left:2601.5px;top:1112.1px;transform:rotate(1deg);transform-origin:70.5px 94.2px"><span class="t" style="font-size: 17.61px; font-family: 'Liberation Serif', serif; font-weight: 700; -webkit-text-stroke: 0.85px rgb(255, 255, 255); transform: scaleX(1.4849); margin-left: -1.1px;">29 SCRIPTS</span></div>
<div class="l" style="left:1918.9px;top:1137.3px"><span class="t" style="font-size: 18.02px; -webkit-text-stroke: 0.22px rgb(104, 176, 195); transform: scaleX(1.0863); margin-left: -0.44px;">Too many “why”s and “how come”s; narrative threads are left dangling.</span></div>
<div class="l" style="left:1889.2px;top:1173.0px"><span class="t" style="font-size: 27.18px; font-weight: 700; color: rgb(182, 42, 44); -webkit-text-stroke: 0.35px rgb(182, 42, 44); transform: scaleX(0.9984); margin-left: -0.3px;">THE STORY IS A STRING OF UNRELATED VIGNETTES</span></div>
<div class="l" style="left:2603.5px;top:1171.2px;transform:rotate(2deg);transform-origin:70.3px 94.6px"><span class="t" style="font-size: 16.54px; font-family: 'Liberation Serif', serif; font-weight: 700; -webkit-text-stroke: 0.85px rgb(255, 255, 255); transform: scaleX(1.5789); margin-left: -1.1px;">29 SCRIPTS</span></div>
<div class="l" style="left:1918.9px;top:1196.2px"><span class="t" style="font-size: 18.02px; -webkit-text-stroke: 0.22px rgb(104, 176, 195); transform: scaleX(1.0967); margin-left: -1.62px;">Not a flowing story, but a rhapsody that jumps from one self-contained interlude to another.</span></div>
<div class="l" style="left:1889.2px;top:1231.8px"><span class="t" style="font-size: 27.18px; font-weight: 700; color: rgb(182, 42, 44); -webkit-text-stroke: 0.35px rgb(182, 42, 44); transform: scaleX(1.0181); margin-left: -0.31px;">THE PLOT UNRAVELS THROUGH CONVENIENCE/CONTRIVANCE</span></div>
<div class="l" style="left:2767.5px;top:1231.6px;transform:rotate(2deg);transform-origin:70.3px 93.9px"><span class="t" style="font-size: 18.76px; font-family: 'Liberation Serif', serif; font-weight: 700; -webkit-text-stroke: 0.85px rgb(255, 255, 255); transform: scaleX(1.3912); margin-left: -1.1px;">28 SCRIPTS</span></div>
<div class="l" style="left:1918.9px;top:1255.7px"><span class="t" style="font-size: 18.02px; -webkit-text-stroke: 0.22px rgb(104, 176, 195); transform: scaleX(1.081); margin-left: -1.6px;">Narrative is driven through luck and coincidence; everything just so happens to be in the right place at</span></div>
<div class="l" style="left:1921.3px;top:1278.5px"><span class="t" style="font-size: 18.02px; -webkit-text-stroke: 0.22px rgb(104, 176, 195); transform: scaleX(1.0758); margin-left: -0.29px;">the right time. Coincidences that <i>cause</i> problems are great; coincidences that <i>solve</i> problems are cheating.</span></div>
<div class="l" style="left:1889.2px;top:1314.7px"><span class="t" style="font-size: 27.18px; font-weight: 700; color: rgb(182, 42, 44); -webkit-text-stroke: 0.35px rgb(182, 42, 44); transform: scaleX(0.9864); margin-left: -0.3px;">THE SCRIPT IS TONALLY CONFUSED</span></div>
<div class="l" style="left:2385.4px;top:1313.9px;transform:rotate(2deg);transform-origin:70.3px 94.5px"><span class="t" style="font-size: 16.92px; font-family: 'Liberation Serif', serif; font-weight: 700; -webkit-text-stroke: 0.85px rgb(255, 255, 255); transform: scaleX(1.5429); margin-left: -1.1px;">28 SCRIPTS</span></div>
<div class="l" style="left:1921.3px;top:1338.0px"><span class="t" style="font-size: 18.02px; -webkit-text-stroke: 0.22px rgb(104, 176, 195); transform: scaleX(1.0911); margin-left: -1.32px;">i.e. moments of tension disrupted by moments of comedy. Script isn’t sure what kind of story it wants</span></div>
<div class="l" style="left:1921.3px;top:1360.8px"><span class="t" style="font-size: 18.02px; -webkit-text-stroke: 0.22px rgb(104, 176, 195); transform: scaleX(1.0999); margin-left: -0.3px;">to tell, so it tells a handful.</span></div>
<div class="l" style="left:2950.3px;top:-8.7px"><span class="t" style="font-size: 27.18px; font-weight: 700; color: rgb(182, 42, 44); -webkit-text-stroke: 0.35px rgb(182, 42, 44); transform: scaleX(0.9855); margin-left: -0.3px;">THE SCRIPT IS STOIC TO A FAULT</span></div>
<div class="l" style="left:3408.1px;top:-12.8px;transform:rotate(0deg);transform-origin:70.8px 93.7px"><span class="t" style="font-size: 19.31px; font-family: 'Liberation Serif', serif; font-weight: 700; -webkit-text-stroke: 0.85px rgb(255, 255, 255); transform: scaleX(1.3607); margin-left: -1.1px;">27 SCRIPTS</span></div>
<div class="l" style="left:2982.9px;top:14.9px"><span class="t" style="font-size: 18.02px; -webkit-text-stroke: 0.22px rgb(104, 176, 195); transform: scaleX(1.0909); margin-left: -1.61px;">Nothing rattles the characters or the script. Characters don’t react to moments of drama, or the script can’t</span></div>
<div class="l" style="left:2982.9px;top:38.0px"><span class="t" style="font-size: 18.02px; -webkit-text-stroke: 0.22px rgb(104, 176, 195); transform: scaleX(1.0772); margin-left: -0.82px;">deliver emotional/dramatic beats successfully. Dramatic beats fall flat, even when characters are dying.</span></div>
<div class="l" style="left:2950.3px;top:73.6px"><span class="t" style="font-size: 27.18px; font-weight: 700; color: rgb(182, 42, 44); -webkit-text-stroke: 0.35px rgb(182, 42, 44); transform: scaleX(1.0003); margin-left: -0.3px;">THE PROTAGONIST IS NOT AS STRONG AS NEED BE</span></div>
<div class="l" style="left:3659.6px;top:76.2px;transform:rotate(2deg);transform-origin:70.6px 94.0px"><span class="t" style="font-size: 18.43px; font-family: 'Liberation Serif', serif; font-weight: 700; -webkit-text-stroke: 0.85px rgb(255, 255, 255); transform: scaleX(1.424); margin-left: -1.1px;">24 SCRIPTS</span></div>
<div class="l" style="left:2980.8px;top:97.1px"><span class="t" style="font-size: 18.02px; -webkit-text-stroke: 0.22px rgb(104, 176, 195); transform: scaleX(1.094); margin-left: -1.62px;">Hero just isn’t up to task.</span></div>
<div class="l" style="left:2950.3px;top:132.8px"><span class="t" style="font-size: 27.18px; font-weight: 700; color: rgb(182, 42, 44); -webkit-text-stroke: 0.35px rgb(182, 42, 44); transform: scaleX(1.001); margin-left: -0.3px;">THE PREMISE IS A TRANSPARENT EXCUSE FOR ACTION</span></div>
<div class="l" style="left:3711.6px;top:130.1px;transform:rotate(-1.5deg);transform-origin:70.2px 94.6px"><span class="t" style="font-size: 16.58px; font-family: 'Liberation Serif', serif; font-weight: 700; -webkit-text-stroke: 0.85px rgb(255, 255, 255); transform: scaleX(1.573); margin-left: -1.1px;">22 SCRIPTS</span></div>
<div class="l" style="left:2980.8px;top:156.3px"><span class="t" style="font-size: 18.02px; -webkit-text-stroke: 0.22px rgb(104, 176, 195); transform: scaleX(1.0673); margin-left: -0.43px;">The script has places it wants to go and a flimsy reason to go there.</span></div>
<div class="l" style="left:2950.3px;top:192.5px"><span class="t" style="font-size: 27.18px; font-weight: 700; color: rgb(182, 42, 44); -webkit-text-stroke: 0.35px rgb(182, 42, 44); transform: scaleX(0.9727); margin-left: -0.3px;">THE CHARACTER BACKSTORIES ARE IRRELEVANT/USELESS</span></div>
<div class="l" style="left:3758.9px;top:192.8px;transform:rotate(1deg);transform-origin:70.6px 94.6px"><span class="t" style="font-size: 16.39px; font-family: 'Liberation Serif', serif; font-weight: 700; -webkit-text-stroke: 0.85px rgb(255, 255, 255); transform: scaleX(1.599); margin-left: -1.1px;">21 SCRIPTS</span></div>
<div class="l" style="left:2980.8px;top:215.5px"><span class="t" style="font-size: 18.02px; -webkit-text-stroke: 0.22px rgb(104, 176, 195); transform: scaleX(1.1036); margin-left: -0.04px;">A lot of information about the past, but little of it matters to the narrative or the character’s arc.</span></div>
<div class="l" style="left:2950.3px;top:251.6px"><span class="t" style="font-size: 27.18px; font-weight: 700; color: rgb(182, 42, 44); -webkit-text-stroke: 0.35px rgb(182, 42, 44); transform: scaleX(1.0128); margin-left: -0.31px;">THE SUPERNATURAL ELEMENT IS TOO UNDEFINED</span></div>
<div class="l" style="left:3660.4px;top:249.0px;transform:rotate(1deg);transform-origin:70.3px 94.4px"><span class="t" style="font-size: 17.24px; font-family: 'Liberation Serif', serif; font-weight: 700; -webkit-text-stroke: 0.85px rgb(255, 255, 255); transform: scaleX(1.5139); margin-left: -1.1px;">21 SCRIPTS</span></div>
<div class="l" style="left:2980.8px;top:275.2px"><span class="t" style="font-size: 18.02px; -webkit-text-stroke: 0.22px rgb(104, 176, 195); transform: scaleX(1.0836); margin-left: -0.44px;">The rules of the supernatural need to be very clear. Too often, the supernatural elements follow</span></div>
<div class="l" style="left:2982.9px;top:298.3px"><span class="t" style="font-size: 18.02px; -webkit-text-stroke: 0.22px rgb(104, 176, 195); transform: scaleX(1.0789); margin-left: -0.82px;">one rule: anything goes.</span></div>
<div class="l" style="left:2950.3px;top:333.9px"><span class="t" style="font-size: 27.18px; font-weight: 700; color: rgb(182, 42, 44); -webkit-text-stroke: 0.35px rgb(182, 42, 44); transform: scaleX(0.9993); margin-left: -0.3px;">THE PLOT IS DRAGGED DOWN BY DISRUPTIVE LULLS</span></div>
<div class="l" style="left:3681.3px;top:330.2px;transform:rotate(-0.5deg);transform-origin:70.7px 94.3px"><span class="t" style="font-size: 17.43px; font-family: 'Liberation Serif', serif; font-weight: 700; -webkit-text-stroke: 0.85px rgb(255, 255, 255); transform: scaleX(1.5166); margin-left: -2.12px;">19 SCRIPTS</span></div>
<div class="l" style="left:2977.5px;top:357.5px"><span class="t" style="font-size: 18.02px; -webkit-text-stroke: 0.22px rgb(104, 176, 195); transform: scaleX(1.0851); margin-left: -1.6px;">Breaks in the story where nothing happens and the momentum is lost.</span></div>
<div class="l" style="left:2950.3px;top:392.8px"><span class="t" style="font-size: 27.18px; font-weight: 700; color: rgb(182, 42, 44); -webkit-text-stroke: 0.35px rgb(182, 42, 44); transform: scaleX(1.0178); margin-left: -0.31px;">THE ENDING IS A CASE OF DEUS EX MACHINA</span></div>
<div class="l" style="left:3596.6px;top:392.8px;transform:rotate(-2.5deg);transform-origin:70.4px 95.0px"><span class="t" style="font-size: 15.34px; font-family: 'Liberation Serif', serif; font-weight: 700; -webkit-text-stroke: 0.85px rgb(255, 255, 255); transform: scaleX(1.7194); margin-left: -2.11px;">19 SCRIPTS</span></div>
<div class="l" style="left:2976.5px;top:416.7px"><span class="t" style="font-size: 18.02px; -webkit-text-stroke: 0.22px rgb(104, 176, 195); transform: scaleX(1.0776); margin-left: -0.92px;">Often means the characters don’t solve their own problems. The story ends simply because it needs to end.</span></div>
<div class="l" style="left:2972.2px;top:439.8px"><span class="t" style="font-size: 18.02px; -webkit-text-stroke: 0.22px rgb(104, 176, 195); transform: scaleX(1.079); margin-left: -1.59px;"><i>Lord of the Flies</i> used it well, but it’s tempting to use <i>deus ex machina</i> as a cheat, not a narrative technique.</span></div>
<div class="l" style="left:2950.3px;top:475.4px"><span class="t" style="font-size: 27.18px; font-weight: 700; color: rgb(182, 42, 44); -webkit-text-stroke: 0.35px rgb(182, 42, 44); transform: scaleX(1.0014); margin-left: -0.3px;">THE CHARACTERS ARE INDISTINGUISHABLE FROM EACH OTHER</span></div>
<div class="l" style="left:3845.1px;top:477.1px;transform:rotate(2deg);transform-origin:62.7px 94.5px"><span class="t" style="font-size: 16.79px; font-family: 'Liberation Serif', serif; font-weight: 700; -webkit-text-stroke: 0.85px rgb(255, 255, 255); transform: scaleX(1.3962); margin-left: -1.88px;">19 SCRIPTS</span></div>
<div class="l" style="left:2980.2px;top:499.5px"><span class="t" style="font-size: 18.02px; -webkit-text-stroke: 0.22px rgb(104, 176, 195); transform: scaleX(1.0737); margin-left: -0.44px;">They talk the same, walk the same, perform the same actions with the same attitudes. Character names</span></div>
<div class="l" style="left:2980.2px;top:522.6px"><span class="t" style="font-size: 18.02px; -webkit-text-stroke: 0.22px rgb(104, 176, 195); transform: scaleX(1.079); margin-left: -0.83px;">could be swapped and not a single line of dialogue would seem out-of-character.</span></div>
<div class="l" style="left:2950.3px;top:557.7px"><span class="t" style="font-size: 27.18px; font-weight: 700; color: rgb(182, 42, 44); -webkit-text-stroke: 0.35px rgb(182, 42, 44); transform: scaleX(1.0005); margin-left: -0.3px;">THE STORY IS ONE BIG SHRUG</span></div>
<div class="l" style="left:3383.2px;top:554.2px;transform:rotate(0deg);transform-origin:70.5px 93.8px"><span class="t" style="font-size: 18.85px; font-family: 'Liberation Serif', serif; font-weight: 700; -webkit-text-stroke: 0.85px rgb(255, 255, 255); transform: scaleX(1.3982); margin-left: -2.11px;">17 SCRIPTS</span></div>
<div class="l" style="left:2980.2px;top:581.8px"><span class="t" style="font-size: 18.02px; -webkit-text-stroke: 0.22px rgb(104, 176, 195); transform: scaleX(1.0761); margin-left: -0.44px;">The story comes and goes and it doesn’t feel as if anything important has even happened. A vital question</span></div>
<div class="l" style="left:2985.6px;top:604.9px"><span class="t" style="font-size: 18.02px; -webkit-text-stroke: 0.22px rgb(104, 176, 195); transform: scaleX(1.085); margin-left: -1.35px;">has been ignored: <i>What are we supposed to be entertained/engaged by?</i></span></div>
<div class="l" style="left:2950.3px;top:640.5px"><span class="t" style="font-size: 27.18px; font-weight: 700; color: rgb(182, 42, 44); -webkit-text-stroke: 0.35px rgb(182, 42, 44); transform: scaleX(0.9974); margin-left: -0.3px;">THE DIALOGUE IS CHEESY, PULPY, ACTION MOVIE CLICHES</span></div>
<div class="l" style="left:3767.0px;top:638.8px;transform:rotate(1.5deg);transform-origin:70.5px 94.3px"><span class="t" style="font-size: 17.41px; font-family: 'Liberation Serif', serif; font-weight: 700; -webkit-text-stroke: 0.85px rgb(255, 255, 255); transform: scaleX(1.5143); margin-left: -2.11px;">16 SCRIPTS</span></div>
<div class="l" style="left:2980.2px;top:664.6px"><span class="t" style="font-size: 18.02px; -webkit-text-stroke: 0.22px rgb(104, 176, 195); transform: scaleX(1.0644); margin-left: -0.04px;">A script full of Sly Stallone quips or gangster movie zingers.</span></div>
<div class="l" style="left:2950.3px;top:700.2px"><span class="t" style="font-size: 27.18px; font-weight: 700; color: rgb(182, 42, 44); -webkit-text-stroke: 0.35px rgb(182, 42, 44); transform: scaleX(0.9854); margin-left: -0.3px;">THE SCRIPT IS A POTBOILER</span></div>
<div class="l" style="left:3347.5px;top:695.5px;transform:rotate(-1.5deg);transform-origin:70.0px 94.5px"><span class="t" style="font-size: 16.67px; font-family: 'Liberation Serif', serif; font-weight: 700; -webkit-text-stroke: 0.85px rgb(255, 255, 255); transform: scaleX(1.5713); margin-left: -2.1px;">15 SCRIPTS</span></div>
<div class="l" style="left:2980.2px;top:724.3px"><span class="t" style="font-size: 18.02px; -webkit-text-stroke: 0.22px rgb(104, 176, 195); transform: scaleX(1.0909); margin-left: -1.61px;">Nothing bad, but nothing special. The airport novel of scripts.</span></div>
<div class="l" style="left:2950.3px;top:759.4px"><span class="t" style="font-size: 27.18px; font-weight: 700; color: rgb(182, 42, 44); -webkit-text-stroke: 0.35px rgb(182, 42, 44); transform: scaleX(1.0362); margin-left: -0.32px;">THE DRAMA/CONFLICT IS TOLD BUT NOT SHOWN</span></div>
<div class="l" style="left:3651.2px;top:755.6px;transform:rotate(-0.5deg);transform-origin:70.7px 94.2px"><span class="t" style="font-size: 17.81px; font-family: 'Liberation Serif', serif; font-weight: 700; -webkit-text-stroke: 0.85px rgb(255, 255, 255); transform: scaleX(1.4837); margin-left: -2.12px;">14 SCRIPTS</span></div>
<div class="l" style="left:2980.2px;top:783.5px"><span class="t" style="font-size: 18.02px; -webkit-text-stroke: 0.22px rgb(104, 176, 195); transform: scaleX(1.0728); margin-left: -0.43px;">Two characters talking about something a third character did is boring. This also inspires a lame shortcut</span></div>
<div class="l" style="left:2985.6px;top:806.6px"><span class="t" style="font-size: 18.02px; -webkit-text-stroke: 0.22px rgb(104, 176, 195); transform: scaleX(1.0554); margin-left: -0.29px;">to make a character seem badass: have other characters call him a badass.</span></div>
<div class="l" style="left:2950.3px;top:842.5px"><span class="t" style="font-size: 27.18px; font-weight: 700; color: rgb(182, 42, 44); -webkit-text-stroke: 0.35px rgb(182, 42, 44); transform: scaleX(1.003); margin-left: -0.31px;">THE GREAT SETTING ISN’T UTILIZED</span></div>
<div class="l" style="left:3460.6px;top:838.7px;transform:rotate(2deg);transform-origin:70.4px 94.2px"><span class="t" style="font-size: 17.6px; font-family: 'Liberation Serif', serif; font-weight: 700; -webkit-text-stroke: 0.85px rgb(255, 255, 255); transform: scaleX(1.4963); margin-left: -2.11px;">13 SCRIPTS</span></div>
<div class="l" style="left:2980.3px;top:866.3px"><span class="t" style="font-size: 18.02px; -webkit-text-stroke: 0.22px rgb(104, 176, 195); transform: scaleX(1.0843); margin-left: -1.8px;">If you’re setting your story during the nanotechnology apocalypse, or in the ruins of earthquake-ravaged</span></div>
<div class="l" style="left:2981.5px;top:889.3px"><span class="t" style="font-size: 18.02px; -webkit-text-stroke: 0.22px rgb(104, 176, 195); transform: scaleX(1.0975); margin-left: -1.62px;">London, why not use that setting to its fullest potential? If the setting were altered, would the action</span></div>
<div class="l" style="left:2980.3px;top:912.3px"><span class="t" style="font-size: 18.02px; -webkit-text-stroke: 0.22px rgb(104, 176, 195); transform: scaleX(1.0813); margin-left: -1.29px;">remain unchanged?</span></div>
<div class="l" style="left:2950.3px;top:948.4px"><span class="t" style="font-size: 27.18px; font-weight: 700; color: rgb(182, 42, 44); -webkit-text-stroke: 0.35px rgb(182, 42, 44); transform: scaleX(1.0114); margin-left: -0.31px;">THE EMOTIONAL ELEMENT IS EXAGGERATED</span></div>
<div class="l" style="left:3582.3px;top:946.4px;transform:rotate(1.5deg);transform-origin:70.3px 94.3px"><span class="t" style="font-size: 17.27px; font-family: 'Liberation Serif', serif; font-weight: 700; -webkit-text-stroke: 0.85px rgb(255, 255, 255); transform: scaleX(1.5233); margin-left: -2.11px;">13 SCRIPTS</span></div>
<div class="l" style="left:2980.3px;top:972.0px"><span class="t" style="font-size: 18.02px; -webkit-text-stroke: 0.22px rgb(104, 176, 195); transform: scaleX(1.0844); margin-left: -1.6px;">Pure plot mechanics; no respect for the characters, only the action.</span></div>
<div class="l" style="left:2950.3px;top:1008.1px"><span class="t" style="font-size: 27.18px; font-weight: 700; color: rgb(182, 42, 44); -webkit-text-stroke: 0.35px rgb(182, 42, 44); transform: scaleX(0.9905); margin-left: -0.3px;">THE DIALOGUE IS STILTED AND UNNECESSARILY VERBOSE</span></div>
<div class="l" style="left:3757.7px;top:1000.1px;transform:rotate(-3deg);transform-origin:70.5px 94.7px"><span class="t" style="font-size: 16.06px; font-family: 'Liberation Serif', serif; font-weight: 700; -webkit-text-stroke: 0.85px rgb(255, 255, 255); transform: scaleX(1.6431); margin-left: -2.11px;">12 SCRIPTS</span></div>
<div class="l" style="left:2980.3px;top:1031.1px"><span class="t" style="font-size: 18.02px; -webkit-text-stroke: 0.22px rgb(104, 176, 195); transform: scaleX(1.0937); margin-left: -1.62px;">Hurts the flow. Plot points are buried under verbiage.</span></div>
<div class="l" style="left:2950.3px;top:1067.1px"><span class="t" style="font-size: 27.18px; font-weight: 700; color: rgb(182, 42, 44); -webkit-text-stroke: 0.35px rgb(182, 42, 44); transform: scaleX(1.0044); margin-left: -0.31px;">THE EMOTIONAL ELEMENT IS NEGLECTED</span></div>
<div class="l" style="left:3539.5px;top:1062.1px;transform:rotate(-2deg);transform-origin:70.6px 94.5px"><span class="t" style="font-size: 16.68px; font-family: 'Liberation Serif', serif; font-weight: 700; -webkit-text-stroke: 0.85px rgb(255, 255, 255); transform: scaleX(1.599); margin-left: -2.14px;">11 SCRIPTS</span></div>
<div class="l" style="left:2980.3px;top:1090.7px"><span class="t" style="font-size: 18.02px; -webkit-text-stroke: 0.22px rgb(104, 176, 195); transform: scaleX(1.0766); margin-left: -0.88px;">Script succumbs to melodrama.</span></div>
<div class="l" style="left:2950.3px;top:1126.1px"><span class="t" style="font-size: 27.18px; font-weight: 700; color: rgb(182, 42, 44); -webkit-text-stroke: 0.35px rgb(182, 42, 44); transform: scaleX(0.9994); margin-left: -0.3px;">THE SCRIPT IS A WRITER EGO TRIP</span></div>
<div class="l" style="left:3442.4px;top:1120.3px;transform:rotate(1deg);transform-origin:69.8px 94.2px"><span class="t" style="font-size: 17.86px; font-family: 'Liberation Serif', serif; font-weight: 700; -webkit-text-stroke: 0.85px rgb(255, 255, 255); transform: scaleX(1.4598); margin-left: -2.09px;">10 SCRIPTS</span></div>
<div class="l" style="left:2980.3px;top:1149.7px"><span class="t" style="font-size: 18.02px; -webkit-text-stroke: 0.22px rgb(104, 176, 195); transform: scaleX(1.0632); margin-left: -1.77px;">Includes excessive camera direction, soundtrack choices, actor suggestions, credit sequences.</span></div>
<div class="l" style="left:2950.3px;top:1185.8px"><span class="t" style="font-size: 27.18px; font-weight: 700; color: rgb(182, 42, 44); -webkit-text-stroke: 0.35px rgb(182, 42, 44); transform: scaleX(0.9902); margin-left: -0.3px;">THE SCRIPT MAKES A REFERENCE, BUT NOT A JOKE</span></div>
<div class="l" style="left:3668.7px;top:1184.1px;transform:rotate(1.5deg);transform-origin:62.2px 94.4px"><span class="t" style="font-size: 17.13px; font-family: 'Liberation Serif', serif; font-weight: 700; -webkit-text-stroke: 0.85px rgb(255, 255, 255); transform: scaleX(1.4921); margin-left: -1.46px;">7 SCRIPTS</span></div>
<div class="l" style="left:2980.3px;top:1209.3px"><span class="t" style="font-size: 18.02px; -webkit-text-stroke: 0.22px rgb(104, 176, 195); transform: scaleX(1.0799); margin-left: -0.04px;">A pop culture reference still needs a punch line.</span></div>
<div class="l" style="left:2950.3px;top:1244.8px"><span class="t" style="font-size: 27.18px; font-weight: 700; color: rgb(182, 42, 44); -webkit-text-stroke: 0.35px rgb(182, 42, 44); transform: scaleX(0.9975); margin-left: -0.3px;">THE MESSAGE OVERSHADOWS THE STORY</span></div>
<div class="l" style="left:3550.0px;top:1245.1px;transform:rotate(1.5deg);transform-origin:62.2px 93.9px"><span class="t" style="font-size: 18.59px; font-family: 'Liberation Serif', serif; font-weight: 700; -webkit-text-stroke: 0.85px rgb(255, 255, 255); transform: scaleX(1.3683); margin-left: -1.02px;">5 SCRIPTS</span></div>
<div class="l" style="left:2971.6px;top:1268.4px"><span class="t" style="font-size: 18.02px; -webkit-text-stroke: 0.22px rgb(104, 176, 195); transform: scaleX(1.078); margin-left: -0.44px;">There’s nothing wrong with a message movie, unless the writer pays more attention to the message</span></div>
<div class="l" style="left:2977.2px;top:1291.4px"><span class="t" style="font-size: 18.02px; -webkit-text-stroke: 0.22px rgb(104, 176, 195); transform: scaleX(1.0767); margin-left: -0.29px;">than the narrative. The narrative is the vehicle, and the vehicle needs wheels.</span></div>

</body></html>
